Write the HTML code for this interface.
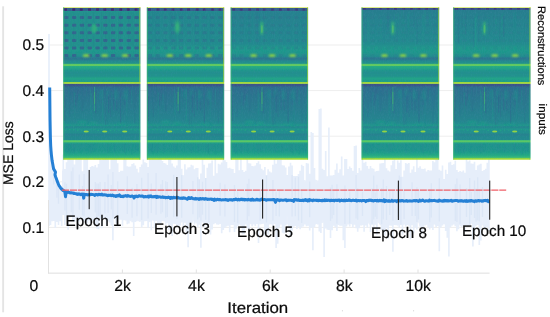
<!DOCTYPE html>
<html><head><meta charset="utf-8"><title>MSE Loss</title><style>
html,body{margin:0;padding:0;background:#fff;width:550px;height:317px;overflow:hidden}
svg{display:block}
</style></head><body>
<svg width="550" height="317" viewBox="0 0 550 317">
<defs><filter id="bl" x="-10%" y="-10%" width="120%" height="120%"><feGaussianBlur stdDeviation="0.6"/></filter><filter id="bl2" x="-50%" y="-50%" width="200%" height="200%"><feGaussianBlur stdDeviation="1.1"/></filter><filter id="nb" x="-2%" y="-2%" width="104%" height="104%"><feGaussianBlur stdDeviation="0.7 0.3"/></filter></defs>
<rect x="2.2" y="6.3" width="1.9" height="306" fill="#e4e4e4"/>
<rect x="48.5" y="226.90" width="441.1" height="1" fill="#eeeeee"/>
<rect x="48.5" y="181.30" width="441.1" height="1" fill="#eeeeee"/>
<rect x="48.5" y="135.70" width="441.1" height="1" fill="#eeeeee"/>
<rect x="48.5" y="90.10" width="441.1" height="1" fill="#eeeeee"/>
<rect x="48.5" y="44.50" width="441.1" height="1" fill="#eeeeee"/>
<g filter="url(#nb)">
<polygon points="62.0,168.4 64.0,175.3 66.0,172.8 68.0,173.2 70.0,173.3 72.0,172.5 74.0,175.9 76.0,172.6 78.0,174.4 80.0,175.5 82.0,177.1 84.0,176.9 86.0,173.9 88.0,176.5 90.0,174.5 92.0,172.5 94.0,172.6 96.0,171.6 98.0,175.3 100.0,176.9 102.0,172.8 104.0,174.3 106.0,172.8 108.0,175.1 110.0,172.9 112.0,173.7 114.0,174.0 116.0,174.6 118.0,174.9 120.0,175.3 122.0,175.4 124.0,173.9 126.0,177.0 128.0,172.5 130.0,176.3 132.0,174.1 134.0,176.4 136.0,176.7 138.0,172.2 140.0,177.0 142.0,178.9 144.0,177.9 146.0,177.1 148.0,172.2 150.0,176.2 152.0,174.8 154.0,178.8 156.0,176.2 158.0,175.6 160.0,173.5 162.0,178.6 164.0,176.0 166.0,176.7 168.0,179.5 170.0,177.6 172.0,178.2 174.0,182.4 176.0,176.6 178.0,176.8 180.0,178.9 182.0,180.8 184.0,175.2 186.0,177.7 188.0,176.3 190.0,175.6 192.0,179.5 194.0,176.9 196.0,179.1 198.0,178.8 200.0,179.0 202.0,178.9 204.0,176.7 206.0,178.8 208.0,179.4 210.0,179.8 212.0,178.6 214.0,181.1 216.0,180.4 218.0,179.6 220.0,180.7 222.0,179.8 224.0,180.8 226.0,175.6 228.0,177.0 230.0,178.7 232.0,179.7 234.0,175.3 236.0,179.0 238.0,179.8 240.0,179.0 242.0,179.0 244.0,176.8 246.0,179.7 248.0,175.5 250.0,181.4 252.0,178.3 254.0,181.7 256.0,176.1 258.0,180.4 260.0,179.8 262.0,177.9 264.0,177.2 266.0,182.0 268.0,180.5 270.0,182.6 272.0,179.6 274.0,180.1 276.0,180.6 278.0,181.3 280.0,180.8 282.0,181.5 284.0,179.0 286.0,177.0 288.0,184.0 290.0,180.4 292.0,181.0 294.0,179.2 296.0,182.1 298.0,180.6 300.0,182.4 302.0,178.9 304.0,180.1 306.0,180.6 308.0,179.6 310.0,180.8 312.0,183.5 314.0,179.2 316.0,179.8 318.0,180.7 320.0,178.4 322.0,178.0 324.0,182.6 326.0,182.0 328.0,177.3 330.0,177.6 332.0,181.9 334.0,182.8 336.0,181.7 338.0,181.4 340.0,183.6 342.0,180.4 344.0,183.0 346.0,182.9 348.0,178.7 350.0,181.9 352.0,180.7 354.0,179.3 356.0,178.9 358.0,181.2 360.0,180.5 362.0,182.2 364.0,177.1 366.0,179.3 368.0,182.8 370.0,180.6 372.0,179.2 374.0,179.7 376.0,177.0 378.0,177.9 380.0,181.8 382.0,180.9 384.0,183.3 386.0,180.2 388.0,180.4 390.0,175.3 392.0,180.6 394.0,185.0 396.0,182.1 398.0,180.6 400.0,183.3 402.0,182.5 404.0,181.5 406.0,180.1 408.0,181.1 410.0,182.6 412.0,179.2 414.0,181.9 416.0,181.8 418.0,183.6 420.0,182.4 422.0,179.5 424.0,184.0 426.0,180.9 428.0,179.4 430.0,181.6 432.0,180.3 434.0,183.0 436.0,178.2 438.0,178.6 440.0,180.3 442.0,184.3 444.0,182.9 446.0,178.9 448.0,177.4 450.0,180.2 452.0,178.3 454.0,182.0 456.0,181.2 458.0,180.8 460.0,180.0 462.0,183.9 464.0,179.0 466.0,178.2 468.0,183.2 470.0,183.6 472.0,180.2 474.0,182.2 476.0,185.6 478.0,179.3 480.0,180.6 482.0,181.8 484.0,176.7 486.0,180.6 488.0,182.4 488.0,225.8 486.0,223.1 484.0,226.3 482.0,225.3 480.0,225.2 478.0,224.5 476.0,226.1 474.0,226.1 472.0,223.3 470.0,225.6 468.0,223.8 466.0,223.5 464.0,224.7 462.0,226.9 460.0,225.8 458.0,223.4 456.0,223.1 454.0,222.9 452.0,226.6 450.0,223.5 448.0,223.5 446.0,224.4 444.0,224.1 442.0,222.0 440.0,224.1 438.0,223.3 436.0,225.5 434.0,223.6 432.0,223.3 430.0,224.2 428.0,222.6 426.0,225.5 424.0,225.5 422.0,227.0 420.0,226.1 418.0,221.9 416.0,225.1 414.0,224.8 412.0,224.5 410.0,225.4 408.0,224.5 406.0,223.6 404.0,224.7 402.0,224.8 400.0,222.0 398.0,226.6 396.0,223.5 394.0,224.0 392.0,223.9 390.0,222.9 388.0,224.5 386.0,225.4 384.0,223.0 382.0,227.3 380.0,224.8 378.0,222.5 376.0,222.5 374.0,222.8 372.0,222.9 370.0,225.2 368.0,223.1 366.0,223.7 364.0,223.3 362.0,225.8 360.0,224.2 358.0,223.3 356.0,224.1 354.0,223.1 352.0,224.9 350.0,222.0 348.0,222.3 346.0,222.0 344.0,223.6 342.0,224.7 340.0,226.2 338.0,224.1 336.0,222.9 334.0,223.6 332.0,222.2 330.0,223.7 328.0,223.9 326.0,223.3 324.0,222.5 322.0,222.9 320.0,223.0 318.0,223.6 316.0,224.2 314.0,225.6 312.0,222.1 310.0,224.4 308.0,223.0 306.0,223.4 304.0,221.6 302.0,222.6 300.0,223.5 298.0,223.5 296.0,225.3 294.0,221.4 292.0,225.8 290.0,224.3 288.0,224.6 286.0,224.2 284.0,225.4 282.0,224.1 280.0,224.2 278.0,224.2 276.0,224.0 274.0,221.8 272.0,224.7 270.0,223.3 268.0,222.7 266.0,222.4 264.0,222.1 262.0,224.1 260.0,224.6 258.0,223.5 256.0,222.1 254.0,225.1 252.0,222.0 250.0,224.7 248.0,223.9 246.0,223.6 244.0,222.9 242.0,223.2 240.0,222.5 238.0,226.1 236.0,224.4 234.0,221.4 232.0,223.2 230.0,219.7 228.0,223.9 226.0,224.5 224.0,222.6 222.0,223.3 220.0,224.0 218.0,221.1 216.0,223.2 214.0,222.2 212.0,224.0 210.0,223.0 208.0,223.5 206.0,223.1 204.0,222.2 202.0,221.5 200.0,222.2 198.0,223.4 196.0,223.5 194.0,220.4 192.0,223.4 190.0,220.8 188.0,221.9 186.0,221.8 184.0,221.3 182.0,222.2 180.0,222.7 178.0,221.3 176.0,223.2 174.0,221.9 172.0,221.1 170.0,220.6 168.0,223.2 166.0,220.7 164.0,220.6 162.0,218.0 160.0,219.7 158.0,223.0 156.0,218.9 154.0,220.9 152.0,219.5 150.0,222.5 148.0,220.4 146.0,221.3 144.0,219.6 142.0,218.8 140.0,221.9 138.0,221.0 136.0,218.3 134.0,219.2 132.0,220.3 130.0,221.4 128.0,217.9 126.0,221.7 124.0,217.7 122.0,218.1 120.0,218.5 118.0,219.2 116.0,219.2 114.0,216.9 112.0,218.9 110.0,217.3 108.0,217.8 106.0,218.1 104.0,218.4 102.0,217.5 100.0,219.9 98.0,218.8 96.0,217.8 94.0,216.5 92.0,217.8 90.0,217.0 88.0,220.3 86.0,218.1 84.0,219.7 82.0,218.4 80.0,218.3 78.0,218.5 76.0,218.3 74.0,218.9 72.0,216.1 70.0,215.6 68.0,216.3 66.0,214.5 64.0,213.5 62.0,213.2" fill="#e8effa"/>
<path d="M49.0 34.0V226.0M50.5 144.0V224.9M52.1 159.6V221.3M53.7 168.5V221.0M55.3 174.8V228.0M56.9 179.5V222.1M58.5 183.7V225.1M60.1 186.4V221.2M61.7 188.3V226.1M63.3 154.4V215.1M64.9 169.0V225.1M66.5 162.3V220.1M68.1 153.6V229.7M69.7 151.0V217.6M71.3 158.6V216.8M72.9 149.4V220.2M74.5 164.5V221.9M76.1 154.2V218.8M77.7 154.1V226.7M79.3 154.1V221.4M80.9 152.9V212.2M82.5 171.2V220.9M84.1 158.2V221.3M85.7 153.6V223.9M87.3 153.2V223.5M88.9 169.5V220.6M90.5 166.9V223.2M92.1 166.0V220.9M93.7 166.5V219.7M95.3 165.1V225.8M96.9 167.4V228.6M98.5 164.1V229.3M100.1 158.0V218.3M101.7 160.0V228.2M103.3 132.3V218.6M104.9 154.9V213.6M106.5 152.9V225.8M108.1 153.5V221.6M109.7 169.3V222.5M111.3 156.5V225.6M112.9 158.3V240.2M114.5 158.0V219.1M116.1 157.1V223.3M117.7 163.2V226.4M119.3 171.9V219.7M120.9 170.8V219.7M122.5 170.8V225.8M124.1 155.5V220.3M125.7 155.0V219.9M127.3 166.3V224.3M128.9 166.7V223.5M130.5 166.5V220.1M132.1 164.0V222.3M133.7 163.2V236.1M135.3 165.5V222.0M136.9 168.7V221.2M138.5 172.5V213.5M140.1 167.0V221.4M141.7 164.6V227.2M143.3 159.6V225.2M144.9 162.2V221.3M146.5 163.1V220.9M148.1 166.9V227.8M149.7 156.8V221.6M151.3 156.5V230.2M152.9 154.7V220.5M154.5 158.4V228.3M156.1 156.5V220.9M157.7 157.2V224.3M159.3 157.7V223.5M160.9 156.6V223.5M162.5 161.1V221.1M164.1 162.9V221.5M165.7 163.6V224.8M167.3 164.9V223.2M168.9 159.1V229.8M170.5 159.2V225.4M172.1 163.5V235.9M173.7 166.4V223.7M175.3 167.7V223.9M176.9 165.4V225.2M178.5 159.6V226.7M180.1 159.9V225.6M181.7 168.7V222.2M183.3 175.3V226.4M184.9 164.2V222.8M186.5 169.5V234.3M188.1 167.5V247.3M189.7 167.3V223.1M191.3 164.8V222.9M192.9 165.5V217.3M194.5 169.2V224.4M196.1 168.0V220.2M197.7 167.9V227.1M199.3 179.8V224.8M200.9 173.4V247.7M202.5 158.8V222.6M204.1 164.8V227.3M205.7 177.9V223.6M207.3 167.8V226.9M208.9 163.5V224.6M210.5 163.2V234.4M212.1 160.4V229.6M213.7 175.7V224.3M215.3 157.8V223.3M216.9 173.2V224.6M218.5 163.7V224.8M220.1 164.5V224.0M221.7 162.4V233.3M223.3 159.9V229.9M224.9 160.2V227.7M226.5 162.1V226.4M228.1 168.3V225.7M229.7 167.8V232.3M231.3 168.7V224.9M232.9 169.0V225.0M234.5 172.9V231.9M236.1 157.8V228.8M237.7 158.9V226.2M239.3 170.2V224.4M240.9 135.0V225.6M242.5 170.0V234.2M244.1 172.1V234.0M245.7 170.8V224.4M247.3 112.4V228.3M248.9 163.3V230.3M250.5 163.6V224.1M252.1 165.9V226.2M253.7 166.3V224.3M255.3 165.5V226.0M256.9 163.1V224.0M258.5 161.2V243.1M260.1 164.2V223.8M261.7 168.7V223.9M263.3 170.2V223.7M264.9 166.9V235.4M266.5 175.0V230.9M268.1 169.2V234.4M269.7 171.4V224.5M271.3 172.6V224.2M272.9 164.8V225.9M274.5 108.2V223.9M276.1 163.8V248.0M277.7 160.1V243.7M279.3 159.9V227.6M280.9 159.8V224.4M282.5 165.2V232.8M284.1 165.4V233.4M285.7 167.4V225.4M287.3 175.1V216.4M288.9 166.4V226.4M290.5 162.8V235.4M292.1 165.4V230.7M293.7 175.9V226.7M295.3 176.1V225.9M296.9 175.9V228.9M298.5 174.1V226.8M300.1 170.7V229.3M301.7 164.8V227.4M303.3 166.0V226.4M304.9 182.5V224.6M306.5 163.0V226.2M308.1 163.5V225.8M309.7 173.7V230.4M311.3 132.0V227.8M312.9 133.0V250.3M314.5 168.0V227.1M316.1 184.4V223.9M317.7 183.1V224.4M319.3 109.0V231.5M320.9 108.5V233.0M322.5 168.7V220.3M324.1 169.9V256.9M325.7 151.0V228.4M327.3 176.3V229.7M328.9 127.5V229.9M330.5 175.6V237.9M332.1 175.6V230.2M333.7 175.0V225.7M335.3 169.8V226.9M336.9 163.5V231.1M338.5 172.8V224.9M340.1 169.3V224.2M341.7 156.5V225.7M343.3 175.4V240.3M344.9 159.0V248.1M346.5 159.0V226.6M348.1 169.0V224.4M349.7 166.4V226.4M351.3 168.0V224.1M352.9 170.8V227.3M354.5 146.0V224.7M356.1 145.5V228.2M357.7 173.0V231.7M359.3 168.1V228.3M360.9 170.5V225.5M362.5 159.2V224.9M364.1 162.7V231.8M365.7 161.8V225.5M367.3 165.9V227.5M368.9 168.7V221.6M370.5 165.9V231.9M372.1 168.2V224.6M373.7 168.8V228.8M375.3 171.4V224.8M376.9 171.0V234.7M378.5 170.8V218.7M380.1 163.5V224.6M381.7 163.2V229.9M383.3 163.1V231.1M384.9 158.4V235.6M386.5 168.3V227.9M388.1 170.6V238.5M389.7 171.5V225.5M391.3 165.3V225.8M392.9 160.8V251.7M394.5 158.6V225.0M396.1 169.0V225.3M397.7 160.4V225.0M399.3 162.7V227.5M400.9 160.2V224.7M402.5 176.7V234.8M404.1 170.5V219.2M405.7 163.0V226.4M407.3 163.8V225.1M408.9 163.1V225.8M410.5 172.7V239.3M412.1 169.4V225.2M413.7 166.3V233.2M415.3 171.9V227.2M416.9 145.7V229.6M418.5 167.7V219.4M420.1 166.3V226.6M421.7 168.8V234.4M423.3 169.1V227.7M424.9 168.6V224.3M426.5 171.4V224.4M428.1 169.9V227.2M429.7 170.5V229.6M431.3 170.6V227.5M432.9 161.0V229.9M434.5 162.2V224.6M436.1 128.6V227.0M437.7 148.6V226.1M439.3 169.8V251.2M440.9 170.8V227.6M442.5 165.4V225.5M444.1 179.1V224.3M445.7 169.7V231.0M447.3 174.1V237.7M448.9 162.6V256.5M450.5 161.7V227.0M452.1 164.9V224.5M453.7 164.3V224.5M455.3 160.7V226.2M456.9 170.1V231.3M458.5 171.9V229.2M460.1 171.1V225.0M461.7 171.8V226.7M463.3 170.5V224.5M464.9 172.8V231.8M466.5 130.8V225.3M468.1 161.4V227.0M469.7 160.6V224.8M471.3 163.5V221.2M472.9 163.7V246.5M474.5 161.7V233.0M476.1 170.1V225.0M477.7 165.6V224.8M479.3 164.6V245.0M480.9 163.7V240.6M482.5 171.0V217.1M484.1 170.0V228.1M485.7 168.7V229.5M487.3 162.8V227.0M488.9 105.9V230.9" stroke="#e6eefa" stroke-width="1.65" fill="none"/>
<path d="M53.7 168.5V184.5M56.9 179.5V197.8M58.5 183.7V203.8M64.9 182.3V210.4M66.5 183.7V215.2M71.3 171.3V212.3M72.9 167.6V216.8M79.3 174.4V209.7M82.5 186.1V215.5M84.1 174.0V216.3M95.3 181.9V212.6M96.9 183.5V217.4M98.5 183.4V216.3M100.1 182.1V218.3M104.9 182.1V213.6M108.1 174.4V212.9M111.3 185.0V209.5M112.9 171.9V218.3M117.7 181.3V218.7M127.3 176.2V213.9M132.1 187.8V217.8M136.9 184.0V216.2M141.7 177.7V220.0M148.1 172.9V218.4M151.3 183.5V213.1M156.1 173.1V214.7M160.9 184.3V213.8M162.5 179.9V212.2M165.7 181.3V217.8M167.3 182.0V217.0M173.7 174.7V217.2M176.9 181.4V218.9M181.7 175.1V217.8M192.9 181.0V214.2M197.7 177.3V219.6M199.3 179.8V217.6M200.9 190.3V220.7M202.5 181.7V214.8M205.7 177.9V219.7M208.9 190.0V222.0M220.1 182.8V215.8M224.9 184.5V216.5M234.5 184.9V222.1M237.7 191.5V223.3M247.3 183.7V220.4M248.9 178.8V216.3M260.1 189.7V220.8M266.5 175.7V222.5M272.9 179.9V220.8M276.1 191.9V215.9M279.3 190.6V216.4M292.1 175.0V216.5M295.3 177.5V216.2M298.5 176.8V220.5M301.7 189.1V222.9M309.7 181.4V217.2M330.5 187.5V221.0M332.1 184.8V218.5M333.7 190.8V214.9M336.9 184.2V223.8M344.9 185.6V224.0M349.7 191.4V223.5M356.1 175.1V218.5M357.7 188.3V219.7M362.5 191.8V216.1M372.1 188.2V224.6M373.7 175.6V219.6M375.3 192.6V216.8M376.9 184.8V219.1M381.7 187.9V224.3M383.3 179.5V219.5M386.5 186.1V219.9M389.7 191.2V215.1M392.9 190.6V220.7M397.7 185.5V217.5M399.3 175.4V219.4M400.9 176.9V224.7M404.1 189.4V219.2M412.1 182.3V216.0M415.3 190.8V216.0M416.9 187.2V221.9M418.5 190.8V219.4M429.7 189.0V222.2M431.3 183.2V217.4M439.3 178.3V221.4M455.3 184.3V220.9M456.9 178.6V222.0M460.1 184.4V224.0M466.5 187.9V217.0M469.7 178.0V224.6M471.3 191.9V214.9M474.5 180.6V217.9M476.1 188.4V221.8M477.7 177.3V220.6M479.3 189.1V221.4M482.5 186.9V217.1" stroke="#dbe6f6" stroke-width="1.3" fill="none"/>
</g>
<rect x="48.0" y="200" width="1" height="73.5" fill="#e2e2e2"/>
<rect x="48.0" y="272.6" width="441.6" height="1.1" fill="#e2e2e2"/>
<rect x="121.90" y="269.5" width="1" height="3.5" fill="#e2e2e2"/>
<rect x="195.80" y="269.5" width="1" height="3.5" fill="#e2e2e2"/>
<rect x="269.70" y="269.5" width="1" height="3.5" fill="#e2e2e2"/>
<rect x="343.60" y="269.5" width="1" height="3.5" fill="#e2e2e2"/>
<rect x="417.50" y="269.5" width="1" height="3.5" fill="#e2e2e2"/>
<polyline points="49.70,87.60 50.04,119.91 50.37,137.27 50.71,145.99 51.05,150.79 51.38,154.59 51.72,157.53 52.05,160.31 52.39,162.20 52.73,164.09 53.06,165.95 53.40,167.80 53.60,168.90 55.50,171.96 55.00,174.71 55.70,177.00 56.40,178.80 57.10,180.88 57.80,182.57 58.50,184.38 59.20,186.00 59.90,186.67 60.60,187.87 61.30,188.96 62.00,189.04 62.70,190.40 63.40,190.45 64.10,190.89 64.80,191.56 65.50,196.66 66.20,191.87 66.90,192.52 67.60,192.28 68.30,191.95 69.00,192.43 69.70,192.82 70.40,192.90 71.10,192.64 71.80,192.91 72.50,192.98 73.20,192.92 73.90,193.38 74.60,193.33 75.30,193.57 76.00,193.77 76.70,193.67 77.40,194.40 78.10,193.80 78.80,194.13 79.50,194.08 80.20,194.22 80.90,194.64 81.60,194.00 82.30,194.58 83.00,194.10 83.70,198.12 84.40,194.15 85.10,194.49 85.80,194.39 86.50,194.47 87.20,194.87 87.90,194.91 88.60,194.60 89.30,194.43 90.00,194.88 90.70,194.29 91.40,194.21 92.10,194.60 92.80,194.61 93.50,194.70 94.20,194.65 94.90,195.47 95.60,194.42 96.30,194.54 97.00,194.46 97.70,194.95 98.40,194.45 99.10,194.34 99.80,194.63 100.50,194.54 101.20,194.84 101.90,194.20 102.60,195.07 103.30,194.94 104.00,194.80 104.70,194.76 105.40,195.10 106.10,194.94 106.80,195.17 107.50,195.63 108.20,195.15 108.90,195.50 109.60,195.39 110.30,195.07 111.00,195.67 111.70,195.55 112.40,195.09 113.10,195.50 113.80,195.99 114.50,195.76 115.20,195.75 115.90,196.46 116.60,195.67 117.30,195.50 118.00,195.91 118.70,195.54 119.40,194.95 120.10,196.01 120.80,196.60 121.50,196.27 122.20,196.13 122.90,196.76 123.60,196.00 124.30,196.16 125.00,195.85 125.70,195.62 126.40,196.02 127.10,196.34 127.80,195.55 128.50,195.79 129.20,196.07 129.90,196.35 130.60,196.38 131.30,196.36 132.00,195.97 132.70,196.31 133.40,196.79 134.10,198.05 134.80,196.19 135.50,196.50 136.20,196.03 136.90,196.34 137.60,196.63 138.30,196.20 139.00,195.72 139.70,195.96 140.40,196.12 141.10,196.34 141.80,195.88 142.50,195.96 143.20,196.53 143.90,197.05 144.60,196.63 145.30,196.42 146.00,196.82 146.70,196.83 147.40,196.82 148.10,196.18 148.80,197.12 149.50,196.16 150.20,196.50 150.90,195.95 151.60,196.76 152.30,196.63 153.00,196.92 153.70,196.68 154.40,196.44 155.10,196.80 155.80,196.43 156.50,197.51 157.20,196.43 157.90,197.15 158.60,196.67 159.30,196.80 160.00,196.88 160.70,197.31 161.40,197.13 162.10,197.19 162.80,196.78 163.50,197.46 164.20,197.17 164.90,197.15 165.60,197.75 166.30,197.63 167.00,197.40 167.70,197.64 168.40,197.10 169.10,197.44 169.80,197.57 170.50,198.51 171.20,197.39 171.90,197.58 172.60,198.13 173.30,197.27 174.00,197.50 174.70,197.75 175.40,197.84 176.10,197.83 176.80,197.18 177.50,198.01 178.20,197.50 178.90,197.84 179.60,198.14 180.30,198.15 181.00,198.39 181.70,198.11 182.40,198.50 183.10,197.82 183.80,198.25 184.50,198.07 185.20,198.13 185.90,198.53 186.60,198.89 187.30,199.25 188.00,198.47 188.70,197.50 189.40,198.43 190.10,197.99 190.80,198.36 191.50,197.70 192.20,198.38 192.90,198.54 193.60,198.83 194.30,198.75 195.00,198.93 195.70,198.22 196.40,199.06 197.10,198.71 197.80,198.72 198.50,198.64 199.20,199.42 199.90,198.61 200.60,198.61 201.30,199.08 202.00,198.90 202.70,198.58 203.40,199.05 204.10,198.74 204.80,199.26 205.50,198.60 206.20,199.08 206.90,199.05 207.60,199.40 208.30,199.14 209.00,199.33 209.70,199.21 210.40,199.12 211.10,198.94 211.80,199.41 212.50,199.32 213.20,199.72 213.90,200.37 214.60,199.09 215.30,199.72 216.00,200.03 216.70,199.41 217.40,199.28 218.10,199.53 218.80,199.73 219.50,199.51 220.20,199.57 220.90,199.89 221.60,200.10 222.30,199.86 223.00,199.67 223.70,199.89 224.40,199.76 225.10,199.59 225.80,199.41 226.50,199.97 227.20,199.71 227.90,200.37 228.60,199.94 229.30,199.74 230.00,199.62 230.70,199.81 231.40,200.00 232.10,199.77 232.80,200.16 233.50,199.61 234.20,199.53 234.90,199.67 235.60,199.02 236.30,199.19 237.00,199.69 237.70,200.02 238.40,199.28 239.10,199.64 239.80,200.00 240.50,199.29 241.20,199.38 241.90,199.12 242.60,199.85 243.30,199.79 244.00,199.22 244.70,200.01 245.40,199.52 246.10,199.56 246.80,199.81 247.50,199.90 248.20,199.39 248.90,199.75 249.60,199.65 250.30,200.10 251.00,199.46 251.70,200.10 252.40,199.16 253.10,199.86 253.80,200.15 254.50,199.89 255.20,200.08 255.90,199.99 256.60,199.26 257.30,199.51 258.00,200.05 258.70,199.77 259.40,199.66 260.10,200.13 260.80,199.84 261.50,199.10 262.20,199.37 262.90,199.74 263.60,199.61 264.30,199.45 265.00,199.68 265.70,199.63 266.40,200.29 267.10,199.78 267.80,199.77 268.50,199.70 269.20,199.67 269.90,199.82 270.60,199.78 271.30,199.84 272.00,199.84 272.70,199.62 273.40,199.94 274.10,199.57 274.80,200.06 275.50,202.39 276.20,200.24 276.90,199.75 277.60,199.62 278.30,200.21 279.00,199.94 279.70,200.70 280.40,199.98 281.10,200.03 281.80,200.14 282.50,200.16 283.20,200.34 283.90,200.14 284.60,200.02 285.30,199.95 286.00,199.83 286.70,200.74 287.40,200.22 288.10,200.49 288.80,200.15 289.50,200.17 290.20,200.35 290.90,200.32 291.60,200.50 292.30,200.49 293.00,200.37 293.70,201.34 294.40,199.61 295.10,199.77 295.80,199.64 296.50,199.74 297.20,200.32 297.90,200.30 298.60,199.74 299.30,200.49 300.00,200.58 300.70,200.30 301.40,200.41 302.10,200.42 302.80,200.13 303.50,200.75 304.20,200.04 304.90,200.19 305.60,199.61 306.30,200.54 307.00,200.13 307.70,200.82 308.40,199.86 309.10,200.79 309.80,199.68 310.50,200.28 311.20,200.33 311.90,200.21 312.60,200.78 313.30,200.07 314.00,200.25 314.70,200.36 315.40,200.33 316.10,200.27 316.80,200.47 317.50,200.28 318.20,200.76 318.90,200.14 319.60,200.35 320.30,200.50 321.00,200.54 321.70,200.79 322.40,200.22 323.10,200.66 323.80,200.37 324.50,199.85 325.20,200.63 325.90,200.02 326.60,200.25 327.30,200.53 328.00,200.23 328.70,200.14 329.40,200.55 330.10,200.69 330.80,200.23 331.50,200.31 332.20,200.52 332.90,200.43 333.60,200.34 334.30,200.95 335.00,200.33 335.70,200.17 336.40,200.31 337.10,200.53 337.80,200.23 338.50,200.16 339.20,200.00 339.90,201.04 340.60,200.60 341.30,200.11 342.00,200.59 342.70,200.57 343.40,200.79 344.10,200.18 344.80,200.80 345.50,200.69 346.20,200.13 346.90,200.52 347.60,200.53 348.30,200.56 349.00,199.86 349.70,200.55 350.40,200.37 351.10,200.72 351.80,200.55 352.50,200.33 353.20,200.22 353.90,200.43 354.60,200.59 355.30,200.49 356.00,200.12 356.70,200.97 357.40,200.77 358.10,200.55 358.80,200.59 359.50,200.70 360.20,200.61 360.90,200.49 361.60,200.87 362.30,200.51 363.00,200.48 363.70,200.58 364.40,200.54 365.10,200.62 365.80,201.54 366.50,200.44 367.20,200.72 367.90,200.84 368.60,200.19 369.30,200.53 370.00,200.18 370.70,200.41 371.40,200.20 372.10,200.68 372.80,200.46 373.50,200.92 374.20,200.55 374.90,200.53 375.60,200.47 376.30,200.41 377.00,200.94 377.70,200.27 378.40,201.00 379.10,200.60 379.80,200.31 380.50,200.70 381.20,200.49 381.90,200.49 382.60,201.04 383.30,200.86 384.00,199.90 384.70,201.72 385.40,200.30 386.10,200.92 386.80,200.54 387.50,201.17 388.20,201.36 388.90,200.48 389.60,201.26 390.30,201.22 391.00,201.20 391.70,200.29 392.40,201.04 393.10,201.29 393.80,200.70 394.50,200.69 395.20,200.70 395.90,200.84 396.60,201.56 397.30,200.65 398.00,200.43 398.70,200.24 399.40,200.98 400.10,200.78 400.80,200.95 401.50,200.54 402.20,200.83 402.90,200.55 403.60,201.14 404.30,201.12 405.00,201.06 405.70,201.01 406.40,200.52 407.10,200.99 407.80,201.22 408.50,200.89 409.20,201.10 409.90,200.78 410.60,201.10 411.30,200.95 412.00,201.13 412.70,201.05 413.40,200.67 414.10,200.56 414.80,200.66 415.50,200.89 416.20,200.47 416.90,200.56 417.60,200.80 418.30,201.49 419.00,201.02 419.70,200.21 420.40,200.97 421.10,200.92 421.80,200.69 422.50,199.98 423.20,200.52 423.90,200.87 424.60,201.32 425.30,201.05 426.00,200.68 426.70,200.68 427.40,200.93 428.10,200.91 428.80,201.19 429.50,199.98 430.20,200.78 430.90,200.71 431.60,200.60 432.30,200.67 433.00,200.58 433.70,200.55 434.40,200.30 435.10,200.59 435.80,200.91 436.50,201.11 437.20,200.75 437.90,201.30 438.60,201.22 439.30,200.19 440.00,200.83 440.70,200.82 441.40,200.96 442.10,201.13 442.80,200.67 443.50,201.08 444.20,200.25 444.90,200.97 445.60,200.44 446.30,200.44 447.00,201.06 447.70,200.60 448.40,200.98 449.10,200.77 449.80,200.88 450.50,200.69 451.20,200.31 451.90,201.18 452.60,201.18 453.30,200.84 454.00,200.78 454.70,200.59 455.40,200.54 456.10,200.53 456.80,200.42 457.50,200.78 458.20,201.18 458.90,200.69 459.60,200.95 460.30,200.97 461.00,200.61 461.70,201.03 462.40,200.81 463.10,201.27 463.80,201.23 464.50,200.76 465.20,200.76 465.90,201.35 466.60,200.56 467.30,201.41 468.00,201.23 468.70,200.71 469.40,200.82 470.10,201.11 470.80,200.52 471.50,200.56 472.20,201.12 472.90,200.95 473.60,200.98 474.30,201.64 475.00,200.93 475.70,200.73 476.40,201.17 477.10,201.04 477.80,200.73 478.50,200.59 479.20,201.00 479.90,200.75 480.60,200.64 481.30,200.68 482.00,201.28 482.70,200.82 483.40,200.95 484.10,200.45 484.80,200.49 485.50,200.36 486.20,200.91 486.90,200.69 487.60,200.27 488.30,201.56 489.00,200.90" fill="none" stroke="#2580d5" stroke-width="3" stroke-linejoin="round"/>
<line x1="61.4" y1="190.1" x2="506.2" y2="190.1" stroke="#ef6068" stroke-width="1.3" stroke-dasharray="7.1 0.85" stroke-dashoffset="-0.6"/>
<rect x="88.65" y="170" width="1.1" height="39.2" fill="#222"/>
<rect x="176.35" y="177" width="1.1" height="39.4" fill="#222"/>
<rect x="262.05" y="179.5" width="1.1" height="39.1" fill="#222"/>
<rect x="397.85" y="180.6" width="1.1" height="39.4" fill="#222"/>
<rect x="489.15" y="180.6" width="1.1" height="39.1" fill="#222"/>
<defs><linearGradient id="rg0" gradientUnits="userSpaceOnUse" x1="0" y1="7.0" x2="0" y2="83.9"><stop offset="0.0000" stop-color="#bddf26"/><stop offset="0.0091" stop-color="#bddf26"/><stop offset="0.0091" stop-color="#355f8d"/><stop offset="0.0494" stop-color="#355f8d"/><stop offset="0.0494" stop-color="#1f958b"/><stop offset="0.0780" stop-color="#21918c"/><stop offset="0.4811" stop-color="#21918c"/><stop offset="0.5072" stop-color="#21918c"/><stop offset="0.5267" stop-color="#1f978b"/><stop offset="0.5722" stop-color="#1f978b"/><stop offset="0.5917" stop-color="#1f958b"/><stop offset="0.6242" stop-color="#21918c"/><stop offset="0.6476" stop-color="#23898e"/><stop offset="0.6632" stop-color="#2b758e"/><stop offset="0.6827" stop-color="#297a8e"/><stop offset="0.7022" stop-color="#23898e"/><stop offset="0.7334" stop-color="#21918c"/><stop offset="0.7412" stop-color="#5ec962"/><stop offset="0.7620" stop-color="#63cb5f"/><stop offset="0.7711" stop-color="#26ad81"/><stop offset="0.7997" stop-color="#20a386"/><stop offset="0.8257" stop-color="#1f958b"/><stop offset="0.8583" stop-color="#218e8d"/><stop offset="0.8778" stop-color="#20928c"/><stop offset="0.8973" stop-color="#21918c"/><stop offset="0.9298" stop-color="#20a386"/><stop offset="0.9558" stop-color="#1f9f88"/><stop offset="0.9753" stop-color="#1f9f88"/><stop offset="0.9805" stop-color="#a2da37"/><stop offset="1.0000" stop-color="#a2da37"/></linearGradient><linearGradient id="rg1" gradientUnits="userSpaceOnUse" x1="0" y1="7.0" x2="0" y2="83.9"><stop offset="0.0000" stop-color="#bddf26"/><stop offset="0.0091" stop-color="#bddf26"/><stop offset="0.0091" stop-color="#355f8d"/><stop offset="0.0494" stop-color="#355f8d"/><stop offset="0.0494" stop-color="#228b8d"/><stop offset="0.0780" stop-color="#24868e"/><stop offset="0.4811" stop-color="#228b8d"/><stop offset="0.5072" stop-color="#21918c"/><stop offset="0.5267" stop-color="#1f978b"/><stop offset="0.5722" stop-color="#1f978b"/><stop offset="0.5917" stop-color="#1f958b"/><stop offset="0.6242" stop-color="#21918c"/><stop offset="0.6476" stop-color="#23898e"/><stop offset="0.6632" stop-color="#2b758e"/><stop offset="0.6827" stop-color="#297a8e"/><stop offset="0.7022" stop-color="#23898e"/><stop offset="0.7334" stop-color="#21918c"/><stop offset="0.7412" stop-color="#5ec962"/><stop offset="0.7620" stop-color="#63cb5f"/><stop offset="0.7711" stop-color="#26ad81"/><stop offset="0.7997" stop-color="#20a386"/><stop offset="0.8257" stop-color="#1f958b"/><stop offset="0.8583" stop-color="#218e8d"/><stop offset="0.8778" stop-color="#20928c"/><stop offset="0.8973" stop-color="#21918c"/><stop offset="0.9298" stop-color="#20a386"/><stop offset="0.9558" stop-color="#1f9f88"/><stop offset="0.9753" stop-color="#1f9f88"/><stop offset="0.9805" stop-color="#a2da37"/><stop offset="1.0000" stop-color="#a2da37"/></linearGradient><linearGradient id="rg2" gradientUnits="userSpaceOnUse" x1="0" y1="7.0" x2="0" y2="83.9"><stop offset="0.0000" stop-color="#bddf26"/><stop offset="0.0091" stop-color="#bddf26"/><stop offset="0.0091" stop-color="#355f8d"/><stop offset="0.0494" stop-color="#355f8d"/><stop offset="0.0494" stop-color="#25848e"/><stop offset="0.0780" stop-color="#27808e"/><stop offset="0.4811" stop-color="#23898e"/><stop offset="0.5072" stop-color="#21918c"/><stop offset="0.5267" stop-color="#1f978b"/><stop offset="0.5722" stop-color="#1f978b"/><stop offset="0.5917" stop-color="#1f958b"/><stop offset="0.6242" stop-color="#21918c"/><stop offset="0.6476" stop-color="#23898e"/><stop offset="0.6632" stop-color="#2b758e"/><stop offset="0.6827" stop-color="#297a8e"/><stop offset="0.7022" stop-color="#23898e"/><stop offset="0.7334" stop-color="#21918c"/><stop offset="0.7412" stop-color="#5ec962"/><stop offset="0.7620" stop-color="#63cb5f"/><stop offset="0.7711" stop-color="#26ad81"/><stop offset="0.7997" stop-color="#20a386"/><stop offset="0.8257" stop-color="#1f958b"/><stop offset="0.8583" stop-color="#218e8d"/><stop offset="0.8778" stop-color="#20928c"/><stop offset="0.8973" stop-color="#21918c"/><stop offset="0.9298" stop-color="#20a386"/><stop offset="0.9558" stop-color="#1f9f88"/><stop offset="0.9753" stop-color="#1f9f88"/><stop offset="0.9805" stop-color="#a2da37"/><stop offset="1.0000" stop-color="#a2da37"/></linearGradient><linearGradient id="rg3" gradientUnits="userSpaceOnUse" x1="0" y1="7.0" x2="0" y2="83.9"><stop offset="0.0000" stop-color="#bddf26"/><stop offset="0.0078" stop-color="#bddf26"/><stop offset="0.0078" stop-color="#3b528b"/><stop offset="0.0338" stop-color="#38588c"/><stop offset="0.0338" stop-color="#287d8e"/><stop offset="0.1691" stop-color="#26828e"/><stop offset="0.4291" stop-color="#23898e"/><stop offset="0.4811" stop-color="#228b8d"/><stop offset="0.5072" stop-color="#21918c"/><stop offset="0.5267" stop-color="#1f978b"/><stop offset="0.5722" stop-color="#1f978b"/><stop offset="0.5917" stop-color="#1f958b"/><stop offset="0.6242" stop-color="#21918c"/><stop offset="0.6476" stop-color="#23898e"/><stop offset="0.6632" stop-color="#2b758e"/><stop offset="0.6827" stop-color="#297a8e"/><stop offset="0.7022" stop-color="#23898e"/><stop offset="0.7334" stop-color="#21918c"/><stop offset="0.7412" stop-color="#5ec962"/><stop offset="0.7620" stop-color="#63cb5f"/><stop offset="0.7711" stop-color="#26ad81"/><stop offset="0.7997" stop-color="#20a386"/><stop offset="0.8257" stop-color="#1f958b"/><stop offset="0.8583" stop-color="#218e8d"/><stop offset="0.8778" stop-color="#20928c"/><stop offset="0.8973" stop-color="#21918c"/><stop offset="0.9298" stop-color="#20a386"/><stop offset="0.9558" stop-color="#1f9f88"/><stop offset="0.9753" stop-color="#1f9f88"/><stop offset="0.9805" stop-color="#a2da37"/><stop offset="1.0000" stop-color="#a2da37"/></linearGradient><linearGradient id="ig" gradientUnits="userSpaceOnUse" x1="0" y1="83.9" x2="0" y2="159.8"><stop offset="0.0000" stop-color="#3c4f8a"/><stop offset="0.0250" stop-color="#38588c"/><stop offset="0.0408" stop-color="#2f6c8e"/><stop offset="0.1462" stop-color="#2c738e"/><stop offset="0.3439" stop-color="#287d8e"/><stop offset="0.4756" stop-color="#25848e"/><stop offset="0.5152" stop-color="#23898e"/><stop offset="0.5455" stop-color="#1f958b"/><stop offset="0.5679" stop-color="#25848e"/><stop offset="0.5982" stop-color="#1f958b"/><stop offset="0.6140" stop-color="#218e8d"/><stop offset="0.6469" stop-color="#218e8d"/><stop offset="0.6601" stop-color="#26828e"/><stop offset="0.6798" stop-color="#25848e"/><stop offset="0.6996" stop-color="#23898e"/><stop offset="0.7339" stop-color="#23898e"/><stop offset="0.7418" stop-color="#44bf70"/><stop offset="0.7642" stop-color="#63cb5f"/><stop offset="0.7760" stop-color="#1f9f88"/><stop offset="0.7984" stop-color="#20928c"/><stop offset="0.8709" stop-color="#1f958b"/><stop offset="0.9104" stop-color="#1f9f88"/><stop offset="0.9499" stop-color="#26ad81"/><stop offset="0.9736" stop-color="#44bf70"/><stop offset="0.9842" stop-color="#a2da37"/><stop offset="1.0000" stop-color="#b0dd2f"/></linearGradient><filter id="pb" x="0" y="0" width="100%" height="100%"><feGaussianBlur stdDeviation="0.45"/></filter><filter id="sb" x="-50%" y="-50%" width="200%" height="200%"><feGaussianBlur stdDeviation="0.8"/></filter><filter id="bb" x="-5%" y="-5%" width="110%" height="110%"><feGaussianBlur stdDeviation="0.5"/></filter><filter id="sb2" x="-50%" y="-50%" width="200%" height="200%"><feGaussianBlur stdDeviation="1.6"/></filter><filter id="tx" x="0" y="0" width="100%" height="100%"><feTurbulence type="fractalNoise" baseFrequency="0.9 0.35" numOctaves="2" seed="4"/><feColorMatrix type="matrix" values="0 0 0 0 0.1  0 0 0 0 0.3  0 0 0 0 0.55  0 0 0 -1.6 0.95"/></filter><clipPath id="cp0"><rect x="63.2" y="7.0" width="77.20" height="152.80"/></clipPath><clipPath id="cp1"><rect x="146.8" y="7.0" width="77.40" height="152.80"/></clipPath><clipPath id="cp2"><rect x="230.6" y="7.0" width="77.50" height="152.80"/></clipPath><clipPath id="cp3"><rect x="361.5" y="7.0" width="77.70" height="152.80"/></clipPath><clipPath id="cp4"><rect x="453.2" y="7.0" width="77.30" height="152.80"/></clipPath></defs>
<g clip-path="url(#cp0)"><g filter="url(#pb)">
<rect x="61.2" y="5.0" width="81.20" height="78.90" fill="url(#rg0)"/>
<rect x="61.2" y="83.9" width="81.20" height="77.90" fill="url(#ig)"/>
<g transform="translate(63.2 0)"><rect x="-1" y="89.8" width="1" height="13.6" fill="#2a788e" opacity="0.55"/><rect x="0" y="95.3" width="1" height="25.5" fill="#26828e" opacity="0.55"/><rect x="1" y="95.7" width="1" height="25.2" fill="#34608d" opacity="0.55"/><rect x="3" y="144" width="1" height="7.1" fill="#228d8d" opacity="0.45"/><rect x="4" y="144" width="1" height="9.3" fill="#21908d" opacity="0.45"/><rect x="5" y="88.6" width="1" height="13.0" fill="#287c8e" opacity="0.55"/><rect x="5" y="144" width="1" height="8.2" fill="#24868e" opacity="0.45"/><rect x="6" y="89.7" width="1" height="27.3" fill="#2c728e" opacity="0.55"/><rect x="6" y="144" width="1" height="10.6" fill="#1f958b" opacity="0.45"/><rect x="8" y="144" width="1" height="8.8" fill="#228d8d" opacity="0.45"/><rect x="9" y="91.0" width="1" height="11.2" fill="#2e6f8e" opacity="0.55"/><rect x="10" y="88.6" width="1" height="17.7" fill="#29798e" opacity="0.55"/><rect x="10" y="144" width="1" height="9.4" fill="#228b8d" opacity="0.45"/><rect x="11" y="92.4" width="1" height="29.1" fill="#24868e" opacity="0.55"/><rect x="11" y="144" width="1" height="7.3" fill="#228d8d" opacity="0.45"/><rect x="12" y="95.3" width="1" height="10.4" fill="#31688e" opacity="0.55"/><rect x="14" y="89.0" width="1" height="11.4" fill="#31668e" opacity="0.55"/><rect x="15" y="93.7" width="1" height="21.9" fill="#277f8e" opacity="0.55"/><rect x="16" y="94.5" width="1" height="13.2" fill="#277f8e" opacity="0.55"/><rect x="16" y="144" width="1" height="8.2" fill="#21908d" opacity="0.45"/><rect x="17" y="144" width="1" height="9.2" fill="#20928c" opacity="0.45"/><rect x="18" y="87.0" width="1" height="24.2" fill="#2a778e" opacity="0.55"/><rect x="19" y="90.9" width="1" height="20.5" fill="#2c738e" opacity="0.55"/><rect x="23" y="87.2" width="1" height="17.0" fill="#297b8e" opacity="0.55"/><rect x="23" y="144" width="1" height="9.8" fill="#1f978b" opacity="0.45"/><rect x="25" y="95.7" width="1" height="10.4" fill="#2a788e" opacity="0.55"/><rect x="25" y="144" width="1" height="7.7" fill="#20928c" opacity="0.45"/><rect x="27" y="89.3" width="1" height="25.3" fill="#228b8d" opacity="0.55"/><rect x="27" y="144" width="1" height="9.3" fill="#23898e" opacity="0.45"/><rect x="28" y="93.4" width="1" height="28.8" fill="#23898e" opacity="0.55"/><rect x="29" y="144" width="1" height="8.0" fill="#228c8d" opacity="0.45"/><rect x="30" y="87.6" width="1" height="16.2" fill="#32658e" opacity="0.55"/><rect x="30" y="144" width="1" height="8.0" fill="#1f948c" opacity="0.45"/><rect x="31" y="88.5" width="1" height="27.9" fill="#26828e" opacity="0.55"/><rect x="31" y="144" width="1" height="7.7" fill="#1f958b" opacity="0.45"/><rect x="32" y="89.5" width="1" height="23.7" fill="#306a8e" opacity="0.55"/><rect x="33" y="94.9" width="1" height="18.8" fill="#2a788e" opacity="0.55"/><rect x="34" y="88.5" width="1" height="22.6" fill="#26828e" opacity="0.55"/><rect x="35" y="144" width="1" height="8.9" fill="#1e9c89" opacity="0.45"/><rect x="36" y="91.9" width="1" height="28.0" fill="#277e8e" opacity="0.55"/><rect x="37" y="89.5" width="1" height="20.1" fill="#277e8e" opacity="0.55"/><rect x="38" y="144" width="1" height="7.1" fill="#1f9a8a" opacity="0.45"/><rect x="39" y="89.4" width="1" height="32.3" fill="#20928c" opacity="0.55"/><rect x="41" y="95.5" width="1" height="12.8" fill="#297b8e" opacity="0.55"/><rect x="42" y="91.4" width="1" height="33.6" fill="#2b758e" opacity="0.55"/><rect x="43" y="90.9" width="1" height="11.7" fill="#277e8e" opacity="0.55"/><rect x="44" y="91.2" width="1" height="33.3" fill="#277e8e" opacity="0.55"/><rect x="44" y="144" width="1" height="9.0" fill="#228c8d" opacity="0.45"/><rect x="45" y="91.2" width="1" height="21.4" fill="#32648e" opacity="0.55"/><rect x="46" y="144" width="1" height="8.1" fill="#1f958b" opacity="0.45"/><rect x="47" y="91.4" width="1" height="25.6" fill="#2e6d8e" opacity="0.55"/><rect x="48" y="91.8" width="1" height="23.0" fill="#26828e" opacity="0.55"/><rect x="48" y="144" width="1" height="8.4" fill="#1f998a" opacity="0.45"/><rect x="49" y="144" width="1" height="7.9" fill="#1f988b" opacity="0.45"/><rect x="50" y="90.4" width="1" height="19.7" fill="#31688e" opacity="0.55"/><rect x="51" y="144" width="1" height="8.2" fill="#23898e" opacity="0.45"/><rect x="52" y="95.4" width="1" height="19.7" fill="#287d8e" opacity="0.55"/><rect x="53" y="88.8" width="1" height="21.7" fill="#31668e" opacity="0.55"/><rect x="54" y="94.9" width="1" height="14.2" fill="#2a768e" opacity="0.55"/><rect x="55" y="91.4" width="1" height="21.9" fill="#2a768e" opacity="0.55"/><rect x="57" y="93.2" width="1" height="31.8" fill="#32648e" opacity="0.55"/><rect x="58" y="95.2" width="1" height="17.3" fill="#287d8e" opacity="0.55"/><rect x="59" y="144" width="1" height="7.9" fill="#218e8d" opacity="0.45"/><rect x="60" y="94.5" width="1" height="20.5" fill="#297a8e" opacity="0.55"/><rect x="61" y="87.6" width="1" height="17.4" fill="#2f6c8e" opacity="0.55"/><rect x="61" y="144" width="1" height="8.9" fill="#26828e" opacity="0.45"/><rect x="62" y="144" width="1" height="11.0" fill="#1f968b" opacity="0.45"/><rect x="63" y="95.2" width="1" height="32.1" fill="#23888e" opacity="0.55"/><rect x="64" y="87.4" width="1" height="21.2" fill="#25838e" opacity="0.55"/><rect x="65" y="90.2" width="1" height="12.2" fill="#2b748e" opacity="0.55"/><rect x="65" y="144" width="1" height="7.0" fill="#228d8d" opacity="0.45"/><rect x="68" y="89.7" width="1" height="14.7" fill="#23888e" opacity="0.55"/><rect x="68" y="144" width="1" height="10.6" fill="#20928c" opacity="0.45"/><rect x="69" y="144" width="1" height="10.3" fill="#1f998a" opacity="0.45"/><rect x="70" y="87.9" width="1" height="20.6" fill="#2a788e" opacity="0.55"/><rect x="71" y="90.0" width="1" height="33.2" fill="#2a778e" opacity="0.55"/><rect x="71" y="144" width="1" height="8.3" fill="#20938c" opacity="0.45"/><rect x="74" y="87.7" width="1" height="16.6" fill="#287d8e" opacity="0.55"/><rect x="74" y="144" width="1" height="7.2" fill="#228d8d" opacity="0.45"/><rect x="75" y="94.2" width="1" height="35.3" fill="#26818e" opacity="0.55"/><rect x="76" y="89.4" width="1" height="30.1" fill="#25848e" opacity="0.55"/><rect x="76" y="144" width="1" height="9.4" fill="#228d8d" opacity="0.45"/><ellipse cx="52.7" cy="94.5" rx="1.7" ry="5.5" fill="#228b8d" opacity="0.7" filter="url(#sb)"/><ellipse cx="62.2" cy="94.5" rx="1.7" ry="5.5" fill="#228b8d" opacity="0.7" filter="url(#sb)"/><ellipse cx="38" cy="94" rx="1.6" ry="5" fill="#24868e" opacity="0.7" filter="url(#sb)"/><ellipse cx="45" cy="92" rx="1.4" ry="4" fill="#25848e" opacity="0.7" filter="url(#sb)"/><ellipse cx="19" cy="122" rx="5" ry="1.5" fill="#1e9c89" opacity="0.7" filter="url(#sb)"/><ellipse cx="30" cy="123" rx="4" ry="1.3" fill="#1e9c89" opacity="0.7" filter="url(#sb)"/><ellipse cx="58" cy="124" rx="5" ry="1.2" fill="#1f978b" opacity="0.7" filter="url(#sb)"/><ellipse cx="23" cy="131.6" rx="2.6" ry="1.0" fill="#9bd93c" opacity="0.95" filter="url(#bb)"/><ellipse cx="41.5" cy="131.6" rx="2.6" ry="1.0" fill="#9bd93c" opacity="0.95" filter="url(#bb)"/><ellipse cx="61.5" cy="131.6" rx="2.6" ry="1.0" fill="#9bd93c" opacity="0.95" filter="url(#bb)"/><rect x="1.5" y="129.8" width="1.8" height="0.9" fill="#26ad81" opacity="0.45"/><rect x="5.6" y="129.3" width="1.5" height="0.9" fill="#26ad81" opacity="0.62"/><rect x="9.7" y="129.5" width="1.4" height="0.9" fill="#26ad81" opacity="0.58"/><rect x="13.8" y="129.7" width="1.5" height="0.9" fill="#26ad81" opacity="0.77"/><rect x="17.9" y="130.3" width="1.2" height="0.9" fill="#26ad81" opacity="0.59"/><rect x="26.1" y="129.5" width="1.5" height="0.9" fill="#26ad81" opacity="0.41"/><rect x="30.2" y="129.3" width="1.2" height="0.9" fill="#26ad81" opacity="0.45"/><rect x="34.3" y="130.0" width="1.3" height="0.9" fill="#26ad81" opacity="0.75"/><rect x="46.6" y="130.2" width="1.5" height="0.9" fill="#26ad81" opacity="0.68"/><rect x="50.7" y="130.3" width="1.3" height="0.9" fill="#26ad81" opacity="0.62"/><rect x="54.8" y="129.8" width="1.5" height="0.9" fill="#26ad81" opacity="0.52"/><rect x="67.1" y="129.3" width="1.8" height="0.9" fill="#26ad81" opacity="0.48"/><rect x="71.2" y="129.7" width="2.1" height="0.9" fill="#26ad81" opacity="0.54"/><rect x="75.3" y="129.6" width="2.1" height="0.9" fill="#26ad81" opacity="0.63"/><rect x="4.1" y="124.6" width="1.2" height="0.9" fill="#22a884" opacity="0.56"/><rect x="7.1" y="125.4" width="1.2" height="0.9" fill="#22a884" opacity="0.46"/><rect x="9.8" y="126.2" width="1.2" height="0.9" fill="#22a884" opacity="0.58"/><rect x="14.8" y="124.8" width="1.2" height="0.9" fill="#22a884" opacity="0.41"/><rect x="16.5" y="124.8" width="1.2" height="0.9" fill="#22a884" opacity="0.43"/><rect x="19.9" y="124.7" width="1.2" height="0.9" fill="#22a884" opacity="0.42"/><rect x="24.5" y="125.2" width="1.2" height="0.9" fill="#22a884" opacity="0.63"/><rect x="26.2" y="124.6" width="1.2" height="0.9" fill="#22a884" opacity="0.68"/><rect x="29.5" y="124.3" width="1.2" height="0.9" fill="#22a884" opacity="0.51"/><rect x="33.3" y="124.6" width="1.2" height="0.9" fill="#22a884" opacity="0.54"/><rect x="37.2" y="124.6" width="1.2" height="0.9" fill="#22a884" opacity="0.52"/><rect x="40.2" y="126.1" width="1.2" height="0.9" fill="#22a884" opacity="0.33"/><rect x="43.1" y="125.5" width="1.2" height="0.9" fill="#22a884" opacity="0.31"/><rect x="47.6" y="126.4" width="1.2" height="0.9" fill="#22a884" opacity="0.43"/><rect x="50.7" y="124.7" width="1.2" height="0.9" fill="#22a884" opacity="0.68"/><rect x="52.9" y="124.1" width="1.2" height="0.9" fill="#22a884" opacity="0.33"/><rect x="56.7" y="124.2" width="1.2" height="0.9" fill="#22a884" opacity="0.69"/><rect x="60.4" y="125.5" width="1.2" height="0.9" fill="#22a884" opacity="0.55"/><rect x="63.2" y="126.2" width="1.2" height="0.9" fill="#22a884" opacity="0.59"/><rect x="66.6" y="124.8" width="1.2" height="0.9" fill="#22a884" opacity="0.36"/><rect x="69.6" y="124.9" width="1.2" height="0.9" fill="#22a884" opacity="0.33"/><rect x="74.1" y="124.7" width="1.2" height="0.9" fill="#22a884" opacity="0.52"/><rect x="30.9" y="87" width="0.9" height="24" fill="#32b67a" opacity="0.55"/><rect x="30.6" y="92" width="1.4" height="12" fill="#4ec36b" opacity="0.35"/></g>
<rect x="63.2" y="12.0" width="1" height="35.9" fill="#24868e" opacity="0.3"/><rect x="64.2" y="12.0" width="1" height="33.0" fill="#277f8e" opacity="0.3"/><rect x="65.2" y="12.0" width="1" height="34.0" fill="#287d8e" opacity="0.3"/><rect x="67.2" y="12.0" width="1" height="36.2" fill="#20938c" opacity="0.3"/><rect x="70.2" y="12.0" width="1" height="34.5" fill="#218e8d" opacity="0.3"/><rect x="72.2" y="12.0" width="1" height="36.3" fill="#1f978b" opacity="0.3"/><rect x="73.2" y="12.0" width="1" height="34.0" fill="#26828e" opacity="0.3"/><rect x="78.2" y="12.0" width="1" height="33.8" fill="#23888e" opacity="0.3"/><rect x="79.2" y="12.0" width="1" height="36.2" fill="#1e9b8a" opacity="0.3"/><rect x="80.2" y="12.0" width="1" height="35.2" fill="#1f948c" opacity="0.3"/><rect x="82.2" y="12.0" width="1" height="36.2" fill="#25848e" opacity="0.3"/><rect x="83.2" y="12.0" width="1" height="37.1" fill="#26828e" opacity="0.3"/><rect x="85.2" y="12.0" width="1" height="37.1" fill="#24868e" opacity="0.3"/><rect x="86.2" y="12.0" width="1" height="36.6" fill="#26828e" opacity="0.3"/><rect x="87.2" y="12.0" width="1" height="35.3" fill="#21918c" opacity="0.3"/><rect x="92.2" y="12.0" width="1" height="35.8" fill="#228b8d" opacity="0.3"/><rect x="93.2" y="12.0" width="1" height="35.2" fill="#277e8e" opacity="0.3"/><rect x="100.2" y="12.0" width="1" height="35.8" fill="#228d8d" opacity="0.3"/><rect x="101.2" y="12.0" width="1" height="34.4" fill="#297b8e" opacity="0.3"/><rect x="103.2" y="12.0" width="1" height="37.4" fill="#228b8d" opacity="0.3"/><rect x="105.2" y="12.0" width="1" height="35.2" fill="#2a778e" opacity="0.3"/><rect x="106.2" y="12.0" width="1" height="37.8" fill="#20928c" opacity="0.3"/><rect x="108.2" y="12.0" width="1" height="37.7" fill="#26828e" opacity="0.3"/><rect x="109.2" y="12.0" width="1" height="36.8" fill="#25848e" opacity="0.3"/><rect x="111.2" y="12.0" width="1" height="37.9" fill="#23888e" opacity="0.3"/><rect x="112.2" y="12.0" width="1" height="32.5" fill="#238a8d" opacity="0.3"/><rect x="117.2" y="12.0" width="1" height="36.9" fill="#1f9f88" opacity="0.3"/><rect x="118.2" y="12.0" width="1" height="33.4" fill="#287c8e" opacity="0.3"/><rect x="120.2" y="12.0" width="1" height="36.0" fill="#2a788e" opacity="0.3"/><rect x="124.2" y="12.0" width="1" height="35.8" fill="#20928c" opacity="0.3"/><rect x="128.2" y="12.0" width="1" height="36.4" fill="#2b758e" opacity="0.3"/><rect x="130.2" y="12.0" width="1" height="32.1" fill="#25848e" opacity="0.3"/><rect x="131.2" y="12.0" width="1" height="33.2" fill="#23888e" opacity="0.3"/><rect x="132.2" y="12.0" width="1" height="34.1" fill="#25848e" opacity="0.3"/><rect x="133.2" y="12.0" width="1" height="34.6" fill="#24878e" opacity="0.3"/><rect x="136.2" y="12.0" width="1" height="33.6" fill="#228b8d" opacity="0.3"/><rect x="138.2" y="12.0" width="1" height="36.4" fill="#20928c" opacity="0.3"/>
<g filter="url(#bb)"><rect x="64.2" y="16.1" width="4.3" height="3.0" rx="0.8" fill="#365d8d" opacity="0.80"/><rect x="72.0" y="16.1" width="4.3" height="3.0" rx="0.8" fill="#365d8d" opacity="0.80"/><rect x="79.8" y="16.1" width="4.3" height="3.0" rx="0.8" fill="#365d8d" opacity="0.80"/><rect x="87.6" y="16.1" width="4.3" height="3.0" rx="0.8" fill="#365d8d" opacity="0.80"/><rect x="95.4" y="16.1" width="4.3" height="3.0" rx="0.8" fill="#365d8d" opacity="0.80"/><rect x="103.2" y="16.1" width="4.3" height="3.0" rx="0.8" fill="#365d8d" opacity="0.80"/><rect x="111.0" y="16.1" width="4.3" height="3.0" rx="0.8" fill="#365d8d" opacity="0.80"/><rect x="118.8" y="16.1" width="4.3" height="3.0" rx="0.8" fill="#365d8d" opacity="0.80"/><rect x="126.6" y="16.1" width="4.3" height="3.0" rx="0.8" fill="#365d8d" opacity="0.80"/><rect x="134.4" y="16.1" width="4.3" height="3.0" rx="0.8" fill="#365d8d" opacity="0.80"/><rect x="64.2" y="23.7" width="4.3" height="3.0" rx="0.8" fill="#365d8d" opacity="0.80"/><rect x="72.0" y="23.7" width="4.3" height="3.0" rx="0.8" fill="#365d8d" opacity="0.80"/><rect x="79.8" y="23.7" width="4.3" height="3.0" rx="0.8" fill="#365d8d" opacity="0.80"/><rect x="87.6" y="23.7" width="4.3" height="3.0" rx="0.8" fill="#365d8d" opacity="0.80"/><rect x="95.4" y="23.7" width="4.3" height="3.0" rx="0.8" fill="#365d8d" opacity="0.80"/><rect x="103.2" y="23.7" width="4.3" height="3.0" rx="0.8" fill="#365d8d" opacity="0.80"/><rect x="111.0" y="23.7" width="4.3" height="3.0" rx="0.8" fill="#365d8d" opacity="0.80"/><rect x="118.8" y="23.7" width="4.3" height="3.0" rx="0.8" fill="#365d8d" opacity="0.80"/><rect x="126.6" y="23.7" width="4.3" height="3.0" rx="0.8" fill="#365d8d" opacity="0.80"/><rect x="134.4" y="23.7" width="4.3" height="3.0" rx="0.8" fill="#365d8d" opacity="0.80"/><rect x="64.2" y="31.3" width="4.3" height="3.0" rx="0.8" fill="#365d8d" opacity="0.80"/><rect x="72.0" y="31.3" width="4.3" height="3.0" rx="0.8" fill="#365d8d" opacity="0.80"/><rect x="79.8" y="31.3" width="4.3" height="3.0" rx="0.8" fill="#365d8d" opacity="0.80"/><rect x="87.6" y="31.3" width="4.3" height="3.0" rx="0.8" fill="#365d8d" opacity="0.80"/><rect x="95.4" y="31.3" width="4.3" height="3.0" rx="0.8" fill="#365d8d" opacity="0.80"/><rect x="103.2" y="31.3" width="4.3" height="3.0" rx="0.8" fill="#365d8d" opacity="0.80"/><rect x="111.0" y="31.3" width="4.3" height="3.0" rx="0.8" fill="#365d8d" opacity="0.80"/><rect x="118.8" y="31.3" width="4.3" height="3.0" rx="0.8" fill="#365d8d" opacity="0.80"/><rect x="126.6" y="31.3" width="4.3" height="3.0" rx="0.8" fill="#365d8d" opacity="0.80"/><rect x="134.4" y="31.3" width="4.3" height="3.0" rx="0.8" fill="#365d8d" opacity="0.80"/><rect x="64.2" y="38.9" width="4.3" height="3.0" rx="0.8" fill="#365d8d" opacity="0.80"/><rect x="72.0" y="38.9" width="4.3" height="3.0" rx="0.8" fill="#365d8d" opacity="0.80"/><rect x="79.8" y="38.9" width="4.3" height="3.0" rx="0.8" fill="#365d8d" opacity="0.80"/><rect x="87.6" y="38.9" width="4.3" height="3.0" rx="0.8" fill="#365d8d" opacity="0.80"/><rect x="95.4" y="38.9" width="4.3" height="3.0" rx="0.8" fill="#365d8d" opacity="0.80"/><rect x="103.2" y="38.9" width="4.3" height="3.0" rx="0.8" fill="#365d8d" opacity="0.80"/><rect x="111.0" y="38.9" width="4.3" height="3.0" rx="0.8" fill="#365d8d" opacity="0.80"/><rect x="118.8" y="38.9" width="4.3" height="3.0" rx="0.8" fill="#365d8d" opacity="0.80"/><rect x="126.6" y="38.9" width="4.3" height="3.0" rx="0.8" fill="#365d8d" opacity="0.80"/><rect x="134.4" y="38.9" width="4.3" height="3.0" rx="0.8" fill="#365d8d" opacity="0.80"/><rect x="64.2" y="46.5" width="4.3" height="3.0" rx="0.8" fill="#365d8d" opacity="0.80"/><rect x="72.0" y="46.5" width="4.3" height="3.0" rx="0.8" fill="#365d8d" opacity="0.80"/><rect x="79.8" y="46.5" width="4.3" height="3.0" rx="0.8" fill="#365d8d" opacity="0.80"/><rect x="87.6" y="46.5" width="4.3" height="3.0" rx="0.8" fill="#365d8d" opacity="0.80"/><rect x="95.4" y="46.5" width="4.3" height="3.0" rx="0.8" fill="#365d8d" opacity="0.80"/><rect x="103.2" y="46.5" width="4.3" height="3.0" rx="0.8" fill="#365d8d" opacity="0.80"/><rect x="111.0" y="46.5" width="4.3" height="3.0" rx="0.8" fill="#365d8d" opacity="0.80"/><rect x="118.8" y="46.5" width="4.3" height="3.0" rx="0.8" fill="#365d8d" opacity="0.80"/><rect x="126.6" y="46.5" width="4.3" height="3.0" rx="0.8" fill="#365d8d" opacity="0.80"/><rect x="134.4" y="46.5" width="4.3" height="3.0" rx="0.8" fill="#365d8d" opacity="0.80"/><rect x="64.2" y="54.1" width="4.3" height="3.0" rx="0.8" fill="#365d8d" opacity="0.80"/><rect x="72.0" y="54.1" width="4.3" height="3.0" rx="0.8" fill="#365d8d" opacity="0.80"/><rect x="87.6" y="54.1" width="4.3" height="3.0" rx="0.8" fill="#365d8d" opacity="0.80"/><rect x="95.4" y="54.1" width="4.3" height="3.0" rx="0.8" fill="#365d8d" opacity="0.80"/><rect x="111.0" y="54.1" width="4.3" height="3.0" rx="0.8" fill="#365d8d" opacity="0.80"/><rect x="126.6" y="54.1" width="4.3" height="3.0" rx="0.8" fill="#365d8d" opacity="0.80"/><rect x="134.4" y="54.1" width="4.3" height="3.0" rx="0.8" fill="#365d8d" opacity="0.80"/><rect x="64.3" y="8.4" width="2.8" height="2.2" fill="#460b5e" opacity="0.70"/><rect x="72.4" y="8.4" width="2.8" height="2.2" fill="#460b5e" opacity="0.70"/><rect x="79.8" y="8.4" width="2.8" height="2.2" fill="#460b5e" opacity="0.70"/><rect x="88.2" y="8.4" width="2.8" height="2.2" fill="#460b5e" opacity="0.70"/><rect x="96.1" y="8.4" width="2.8" height="2.2" fill="#460b5e" opacity="0.70"/><rect x="103.5" y="8.4" width="2.8" height="2.2" fill="#460b5e" opacity="0.70"/><rect x="111.1" y="8.4" width="2.8" height="2.2" fill="#460b5e" opacity="0.70"/><rect x="119.4" y="8.4" width="2.8" height="2.2" fill="#460b5e" opacity="0.70"/><rect x="126.8" y="8.4" width="2.8" height="2.2" fill="#460b5e" opacity="0.70"/><rect x="134.6" y="8.4" width="2.8" height="2.2" fill="#460b5e" opacity="0.70"/></g>
<ellipse cx="94.2" cy="28.5" rx="2.6" ry="4.5" fill="#32b67a" opacity="0.8" filter="url(#sb)"/><ellipse cx="86.2" cy="55.7" rx="3.4" ry="1.4" fill="#9bd93c" opacity="0.95" filter="url(#sb)"/><ellipse cx="86.2" cy="58.3" rx="2.5" ry="0.9" fill="#2f6c8e" opacity="0.4" filter="url(#sb)"/><ellipse cx="104.7" cy="55.7" rx="3.4" ry="1.4" fill="#9bd93c" opacity="0.95" filter="url(#sb)"/><ellipse cx="104.7" cy="58.3" rx="2.5" ry="0.9" fill="#2f6c8e" opacity="0.4" filter="url(#sb)"/><ellipse cx="125.2" cy="55.7" rx="3.4" ry="1.4" fill="#9bd93c" opacity="0.95" filter="url(#sb)"/><ellipse cx="125.2" cy="58.3" rx="2.5" ry="0.9" fill="#2f6c8e" opacity="0.4" filter="url(#sb)"/>
<rect x="63.2" y="7.0" width="77.20" height="152.80" filter="url(#tx)" opacity="0.18"/>
</g>
<rect x="63.2" y="7.0" width="77.20" height="0.75" fill="#e9f2a8"/>
<rect x="63.2" y="7.0" width="1" height="152.8" fill="#44bf70" opacity="0.6"/>
<rect x="139.4" y="7.0" width="1" height="76.9" fill="#b0dd2f" opacity="0.7"/><rect x="139.4" y="83.9" width="1" height="75.9" fill="#44bf70" opacity="0.45"/>
</g>
<g clip-path="url(#cp1)"><g filter="url(#pb)">
<rect x="144.8" y="5.0" width="81.40" height="78.90" fill="url(#rg1)"/>
<rect x="144.8" y="83.9" width="81.40" height="77.90" fill="url(#ig)"/>
<g transform="translate(146.8 0)"><rect x="-1" y="89.8" width="1" height="13.6" fill="#2a788e" opacity="0.55"/><rect x="0" y="95.3" width="1" height="25.5" fill="#26828e" opacity="0.55"/><rect x="1" y="95.7" width="1" height="25.2" fill="#34608d" opacity="0.55"/><rect x="3" y="144" width="1" height="7.1" fill="#228d8d" opacity="0.45"/><rect x="4" y="144" width="1" height="9.3" fill="#21908d" opacity="0.45"/><rect x="5" y="88.6" width="1" height="13.0" fill="#287c8e" opacity="0.55"/><rect x="5" y="144" width="1" height="8.2" fill="#24868e" opacity="0.45"/><rect x="6" y="89.7" width="1" height="27.3" fill="#2c728e" opacity="0.55"/><rect x="6" y="144" width="1" height="10.6" fill="#1f958b" opacity="0.45"/><rect x="8" y="144" width="1" height="8.8" fill="#228d8d" opacity="0.45"/><rect x="9" y="91.0" width="1" height="11.2" fill="#2e6f8e" opacity="0.55"/><rect x="10" y="88.6" width="1" height="17.7" fill="#29798e" opacity="0.55"/><rect x="10" y="144" width="1" height="9.4" fill="#228b8d" opacity="0.45"/><rect x="11" y="92.4" width="1" height="29.1" fill="#24868e" opacity="0.55"/><rect x="11" y="144" width="1" height="7.3" fill="#228d8d" opacity="0.45"/><rect x="12" y="95.3" width="1" height="10.4" fill="#31688e" opacity="0.55"/><rect x="14" y="89.0" width="1" height="11.4" fill="#31668e" opacity="0.55"/><rect x="15" y="93.7" width="1" height="21.9" fill="#277f8e" opacity="0.55"/><rect x="16" y="94.5" width="1" height="13.2" fill="#277f8e" opacity="0.55"/><rect x="16" y="144" width="1" height="8.2" fill="#21908d" opacity="0.45"/><rect x="17" y="144" width="1" height="9.2" fill="#20928c" opacity="0.45"/><rect x="18" y="87.0" width="1" height="24.2" fill="#2a778e" opacity="0.55"/><rect x="19" y="90.9" width="1" height="20.5" fill="#2c738e" opacity="0.55"/><rect x="23" y="87.2" width="1" height="17.0" fill="#297b8e" opacity="0.55"/><rect x="23" y="144" width="1" height="9.8" fill="#1f978b" opacity="0.45"/><rect x="25" y="95.7" width="1" height="10.4" fill="#2a788e" opacity="0.55"/><rect x="25" y="144" width="1" height="7.7" fill="#20928c" opacity="0.45"/><rect x="27" y="89.3" width="1" height="25.3" fill="#228b8d" opacity="0.55"/><rect x="27" y="144" width="1" height="9.3" fill="#23898e" opacity="0.45"/><rect x="28" y="93.4" width="1" height="28.8" fill="#23898e" opacity="0.55"/><rect x="29" y="144" width="1" height="8.0" fill="#228c8d" opacity="0.45"/><rect x="30" y="87.6" width="1" height="16.2" fill="#32658e" opacity="0.55"/><rect x="30" y="144" width="1" height="8.0" fill="#1f948c" opacity="0.45"/><rect x="31" y="88.5" width="1" height="27.9" fill="#26828e" opacity="0.55"/><rect x="31" y="144" width="1" height="7.7" fill="#1f958b" opacity="0.45"/><rect x="32" y="89.5" width="1" height="23.7" fill="#306a8e" opacity="0.55"/><rect x="33" y="94.9" width="1" height="18.8" fill="#2a788e" opacity="0.55"/><rect x="34" y="88.5" width="1" height="22.6" fill="#26828e" opacity="0.55"/><rect x="35" y="144" width="1" height="8.9" fill="#1e9c89" opacity="0.45"/><rect x="36" y="91.9" width="1" height="28.0" fill="#277e8e" opacity="0.55"/><rect x="37" y="89.5" width="1" height="20.1" fill="#277e8e" opacity="0.55"/><rect x="38" y="144" width="1" height="7.1" fill="#1f9a8a" opacity="0.45"/><rect x="39" y="89.4" width="1" height="32.3" fill="#20928c" opacity="0.55"/><rect x="41" y="95.5" width="1" height="12.8" fill="#297b8e" opacity="0.55"/><rect x="42" y="91.4" width="1" height="33.6" fill="#2b758e" opacity="0.55"/><rect x="43" y="90.9" width="1" height="11.7" fill="#277e8e" opacity="0.55"/><rect x="44" y="91.2" width="1" height="33.3" fill="#277e8e" opacity="0.55"/><rect x="44" y="144" width="1" height="9.0" fill="#228c8d" opacity="0.45"/><rect x="45" y="91.2" width="1" height="21.4" fill="#32648e" opacity="0.55"/><rect x="46" y="144" width="1" height="8.1" fill="#1f958b" opacity="0.45"/><rect x="47" y="91.4" width="1" height="25.6" fill="#2e6d8e" opacity="0.55"/><rect x="48" y="91.8" width="1" height="23.0" fill="#26828e" opacity="0.55"/><rect x="48" y="144" width="1" height="8.4" fill="#1f998a" opacity="0.45"/><rect x="49" y="144" width="1" height="7.9" fill="#1f988b" opacity="0.45"/><rect x="50" y="90.4" width="1" height="19.7" fill="#31688e" opacity="0.55"/><rect x="51" y="144" width="1" height="8.2" fill="#23898e" opacity="0.45"/><rect x="52" y="95.4" width="1" height="19.7" fill="#287d8e" opacity="0.55"/><rect x="53" y="88.8" width="1" height="21.7" fill="#31668e" opacity="0.55"/><rect x="54" y="94.9" width="1" height="14.2" fill="#2a768e" opacity="0.55"/><rect x="55" y="91.4" width="1" height="21.9" fill="#2a768e" opacity="0.55"/><rect x="57" y="93.2" width="1" height="31.8" fill="#32648e" opacity="0.55"/><rect x="58" y="95.2" width="1" height="17.3" fill="#287d8e" opacity="0.55"/><rect x="59" y="144" width="1" height="7.9" fill="#218e8d" opacity="0.45"/><rect x="60" y="94.5" width="1" height="20.5" fill="#297a8e" opacity="0.55"/><rect x="61" y="87.6" width="1" height="17.4" fill="#2f6c8e" opacity="0.55"/><rect x="61" y="144" width="1" height="8.9" fill="#26828e" opacity="0.45"/><rect x="62" y="144" width="1" height="11.0" fill="#1f968b" opacity="0.45"/><rect x="63" y="95.2" width="1" height="32.1" fill="#23888e" opacity="0.55"/><rect x="64" y="87.4" width="1" height="21.2" fill="#25838e" opacity="0.55"/><rect x="65" y="90.2" width="1" height="12.2" fill="#2b748e" opacity="0.55"/><rect x="65" y="144" width="1" height="7.0" fill="#228d8d" opacity="0.45"/><rect x="68" y="89.7" width="1" height="14.7" fill="#23888e" opacity="0.55"/><rect x="68" y="144" width="1" height="10.6" fill="#20928c" opacity="0.45"/><rect x="69" y="144" width="1" height="10.3" fill="#1f998a" opacity="0.45"/><rect x="70" y="87.9" width="1" height="20.6" fill="#2a788e" opacity="0.55"/><rect x="71" y="90.0" width="1" height="33.2" fill="#2a778e" opacity="0.55"/><rect x="71" y="144" width="1" height="8.3" fill="#20938c" opacity="0.45"/><rect x="74" y="87.7" width="1" height="16.6" fill="#287d8e" opacity="0.55"/><rect x="74" y="144" width="1" height="7.2" fill="#228d8d" opacity="0.45"/><rect x="75" y="94.2" width="1" height="35.3" fill="#26818e" opacity="0.55"/><rect x="76" y="89.4" width="1" height="30.1" fill="#25848e" opacity="0.55"/><rect x="76" y="144" width="1" height="9.4" fill="#228d8d" opacity="0.45"/><ellipse cx="52.7" cy="94.5" rx="1.7" ry="5.5" fill="#228b8d" opacity="0.7" filter="url(#sb)"/><ellipse cx="62.2" cy="94.5" rx="1.7" ry="5.5" fill="#228b8d" opacity="0.7" filter="url(#sb)"/><ellipse cx="38" cy="94" rx="1.6" ry="5" fill="#24868e" opacity="0.7" filter="url(#sb)"/><ellipse cx="45" cy="92" rx="1.4" ry="4" fill="#25848e" opacity="0.7" filter="url(#sb)"/><ellipse cx="19" cy="122" rx="5" ry="1.5" fill="#1e9c89" opacity="0.7" filter="url(#sb)"/><ellipse cx="30" cy="123" rx="4" ry="1.3" fill="#1e9c89" opacity="0.7" filter="url(#sb)"/><ellipse cx="58" cy="124" rx="5" ry="1.2" fill="#1f978b" opacity="0.7" filter="url(#sb)"/><ellipse cx="23" cy="131.6" rx="2.6" ry="1.0" fill="#9bd93c" opacity="0.95" filter="url(#bb)"/><ellipse cx="41.5" cy="131.6" rx="2.6" ry="1.0" fill="#9bd93c" opacity="0.95" filter="url(#bb)"/><ellipse cx="61.5" cy="131.6" rx="2.6" ry="1.0" fill="#9bd93c" opacity="0.95" filter="url(#bb)"/><rect x="1.5" y="129.8" width="1.8" height="0.9" fill="#26ad81" opacity="0.45"/><rect x="5.6" y="129.3" width="1.5" height="0.9" fill="#26ad81" opacity="0.62"/><rect x="9.7" y="129.5" width="1.4" height="0.9" fill="#26ad81" opacity="0.58"/><rect x="13.8" y="129.7" width="1.5" height="0.9" fill="#26ad81" opacity="0.77"/><rect x="17.9" y="130.3" width="1.2" height="0.9" fill="#26ad81" opacity="0.59"/><rect x="26.1" y="129.5" width="1.5" height="0.9" fill="#26ad81" opacity="0.41"/><rect x="30.2" y="129.3" width="1.2" height="0.9" fill="#26ad81" opacity="0.45"/><rect x="34.3" y="130.0" width="1.3" height="0.9" fill="#26ad81" opacity="0.75"/><rect x="46.6" y="130.2" width="1.5" height="0.9" fill="#26ad81" opacity="0.68"/><rect x="50.7" y="130.3" width="1.3" height="0.9" fill="#26ad81" opacity="0.62"/><rect x="54.8" y="129.8" width="1.5" height="0.9" fill="#26ad81" opacity="0.52"/><rect x="67.1" y="129.3" width="1.8" height="0.9" fill="#26ad81" opacity="0.48"/><rect x="71.2" y="129.7" width="2.1" height="0.9" fill="#26ad81" opacity="0.54"/><rect x="75.3" y="129.6" width="2.1" height="0.9" fill="#26ad81" opacity="0.63"/><rect x="4.1" y="124.6" width="1.2" height="0.9" fill="#22a884" opacity="0.56"/><rect x="7.1" y="125.4" width="1.2" height="0.9" fill="#22a884" opacity="0.46"/><rect x="9.8" y="126.2" width="1.2" height="0.9" fill="#22a884" opacity="0.58"/><rect x="14.8" y="124.8" width="1.2" height="0.9" fill="#22a884" opacity="0.41"/><rect x="16.5" y="124.8" width="1.2" height="0.9" fill="#22a884" opacity="0.43"/><rect x="19.9" y="124.7" width="1.2" height="0.9" fill="#22a884" opacity="0.42"/><rect x="24.5" y="125.2" width="1.2" height="0.9" fill="#22a884" opacity="0.63"/><rect x="26.2" y="124.6" width="1.2" height="0.9" fill="#22a884" opacity="0.68"/><rect x="29.5" y="124.3" width="1.2" height="0.9" fill="#22a884" opacity="0.51"/><rect x="33.3" y="124.6" width="1.2" height="0.9" fill="#22a884" opacity="0.54"/><rect x="37.2" y="124.6" width="1.2" height="0.9" fill="#22a884" opacity="0.52"/><rect x="40.2" y="126.1" width="1.2" height="0.9" fill="#22a884" opacity="0.33"/><rect x="43.1" y="125.5" width="1.2" height="0.9" fill="#22a884" opacity="0.31"/><rect x="47.6" y="126.4" width="1.2" height="0.9" fill="#22a884" opacity="0.43"/><rect x="50.7" y="124.7" width="1.2" height="0.9" fill="#22a884" opacity="0.68"/><rect x="52.9" y="124.1" width="1.2" height="0.9" fill="#22a884" opacity="0.33"/><rect x="56.7" y="124.2" width="1.2" height="0.9" fill="#22a884" opacity="0.69"/><rect x="60.4" y="125.5" width="1.2" height="0.9" fill="#22a884" opacity="0.55"/><rect x="63.2" y="126.2" width="1.2" height="0.9" fill="#22a884" opacity="0.59"/><rect x="66.6" y="124.8" width="1.2" height="0.9" fill="#22a884" opacity="0.36"/><rect x="69.6" y="124.9" width="1.2" height="0.9" fill="#22a884" opacity="0.33"/><rect x="74.1" y="124.7" width="1.2" height="0.9" fill="#22a884" opacity="0.52"/><rect x="30.9" y="87" width="0.9" height="24" fill="#32b67a" opacity="0.55"/><rect x="30.6" y="92" width="1.4" height="12" fill="#4ec36b" opacity="0.35"/></g>
<rect x="146.8" y="12.0" width="1" height="34.2" fill="#228b8d" opacity="0.3"/><rect x="148.8" y="12.0" width="1" height="32.8" fill="#25848e" opacity="0.3"/><rect x="149.8" y="12.0" width="1" height="34.6" fill="#228d8d" opacity="0.3"/><rect x="150.8" y="12.0" width="1" height="37.3" fill="#1f988b" opacity="0.3"/><rect x="151.8" y="12.0" width="1" height="35.4" fill="#26818e" opacity="0.3"/><rect x="152.8" y="12.0" width="1" height="33.7" fill="#25858e" opacity="0.3"/><rect x="154.8" y="12.0" width="1" height="33.4" fill="#277f8e" opacity="0.3"/><rect x="155.8" y="12.0" width="1" height="37.5" fill="#25838e" opacity="0.3"/><rect x="157.8" y="12.0" width="1" height="34.3" fill="#25858e" opacity="0.3"/><rect x="159.8" y="12.0" width="1" height="33.3" fill="#228c8d" opacity="0.3"/><rect x="161.8" y="12.0" width="1" height="34.6" fill="#24878e" opacity="0.3"/><rect x="165.8" y="12.0" width="1" height="37.8" fill="#218f8d" opacity="0.3"/><rect x="166.8" y="12.0" width="1" height="33.4" fill="#1f988b" opacity="0.3"/><rect x="169.8" y="12.0" width="1" height="34.1" fill="#297b8e" opacity="0.3"/><rect x="170.8" y="12.0" width="1" height="32.3" fill="#277f8e" opacity="0.3"/><rect x="171.8" y="12.0" width="1" height="32.8" fill="#287d8e" opacity="0.3"/><rect x="173.8" y="12.0" width="1" height="37.0" fill="#25858e" opacity="0.3"/><rect x="174.8" y="12.0" width="1" height="36.9" fill="#23888e" opacity="0.3"/><rect x="175.8" y="12.0" width="1" height="37.7" fill="#287d8e" opacity="0.3"/><rect x="176.8" y="12.0" width="1" height="33.8" fill="#1f958b" opacity="0.3"/><rect x="178.8" y="12.0" width="1" height="37.6" fill="#277f8e" opacity="0.3"/><rect x="180.8" y="12.0" width="1" height="32.8" fill="#218e8d" opacity="0.3"/><rect x="181.8" y="12.0" width="1" height="35.9" fill="#27808e" opacity="0.3"/><rect x="185.8" y="12.0" width="1" height="32.0" fill="#218f8d" opacity="0.3"/><rect x="186.8" y="12.0" width="1" height="34.7" fill="#20928c" opacity="0.3"/><rect x="192.8" y="12.0" width="1" height="34.5" fill="#20928c" opacity="0.3"/><rect x="194.8" y="12.0" width="1" height="33.0" fill="#287d8e" opacity="0.3"/><rect x="197.8" y="12.0" width="1" height="35.9" fill="#25838e" opacity="0.3"/><rect x="199.8" y="12.0" width="1" height="33.4" fill="#1f958b" opacity="0.3"/><rect x="200.8" y="12.0" width="1" height="36.4" fill="#25858e" opacity="0.3"/><rect x="202.8" y="12.0" width="1" height="36.6" fill="#25858e" opacity="0.3"/><rect x="204.8" y="12.0" width="1" height="33.7" fill="#218e8d" opacity="0.3"/><rect x="206.8" y="12.0" width="1" height="36.6" fill="#24878e" opacity="0.3"/><rect x="207.8" y="12.0" width="1" height="34.2" fill="#218f8d" opacity="0.3"/><rect x="209.8" y="12.0" width="1" height="34.7" fill="#26828e" opacity="0.3"/><rect x="212.8" y="12.0" width="1" height="33.2" fill="#228d8d" opacity="0.3"/><rect x="219.8" y="12.0" width="1" height="36.6" fill="#21918c" opacity="0.3"/><rect x="221.8" y="12.0" width="1" height="32.6" fill="#218e8d" opacity="0.3"/><rect x="222.8" y="12.0" width="1" height="36.4" fill="#287d8e" opacity="0.3"/><rect x="223.8" y="12.0" width="1" height="32.5" fill="#228d8d" opacity="0.3"/>
<g filter="url(#bb)"><rect x="147.8" y="16.1" width="4.3" height="3.0" rx="0.8" fill="#365d8d" opacity="0.34"/><rect x="155.6" y="16.1" width="4.3" height="3.0" rx="0.8" fill="#365d8d" opacity="0.34"/><rect x="163.4" y="16.1" width="4.3" height="3.0" rx="0.8" fill="#365d8d" opacity="0.34"/><rect x="171.2" y="16.1" width="4.3" height="3.0" rx="0.8" fill="#365d8d" opacity="0.34"/><rect x="179.0" y="16.1" width="4.3" height="3.0" rx="0.8" fill="#365d8d" opacity="0.34"/><rect x="186.8" y="16.1" width="4.3" height="3.0" rx="0.8" fill="#365d8d" opacity="0.34"/><rect x="194.6" y="16.1" width="4.3" height="3.0" rx="0.8" fill="#365d8d" opacity="0.34"/><rect x="202.4" y="16.1" width="4.3" height="3.0" rx="0.8" fill="#365d8d" opacity="0.34"/><rect x="210.2" y="16.1" width="4.3" height="3.0" rx="0.8" fill="#365d8d" opacity="0.34"/><rect x="218.0" y="16.1" width="4.3" height="3.0" rx="0.8" fill="#365d8d" opacity="0.34"/><rect x="147.8" y="23.7" width="4.3" height="3.0" rx="0.8" fill="#365d8d" opacity="0.34"/><rect x="155.6" y="23.7" width="4.3" height="3.0" rx="0.8" fill="#365d8d" opacity="0.34"/><rect x="163.4" y="23.7" width="4.3" height="3.0" rx="0.8" fill="#365d8d" opacity="0.34"/><rect x="171.2" y="23.7" width="4.3" height="3.0" rx="0.8" fill="#365d8d" opacity="0.34"/><rect x="179.0" y="23.7" width="4.3" height="3.0" rx="0.8" fill="#365d8d" opacity="0.34"/><rect x="186.8" y="23.7" width="4.3" height="3.0" rx="0.8" fill="#365d8d" opacity="0.34"/><rect x="194.6" y="23.7" width="4.3" height="3.0" rx="0.8" fill="#365d8d" opacity="0.34"/><rect x="202.4" y="23.7" width="4.3" height="3.0" rx="0.8" fill="#365d8d" opacity="0.34"/><rect x="210.2" y="23.7" width="4.3" height="3.0" rx="0.8" fill="#365d8d" opacity="0.34"/><rect x="218.0" y="23.7" width="4.3" height="3.0" rx="0.8" fill="#365d8d" opacity="0.34"/><rect x="147.8" y="31.3" width="4.3" height="3.0" rx="0.8" fill="#365d8d" opacity="0.34"/><rect x="155.6" y="31.3" width="4.3" height="3.0" rx="0.8" fill="#365d8d" opacity="0.34"/><rect x="163.4" y="31.3" width="4.3" height="3.0" rx="0.8" fill="#365d8d" opacity="0.34"/><rect x="171.2" y="31.3" width="4.3" height="3.0" rx="0.8" fill="#365d8d" opacity="0.34"/><rect x="179.0" y="31.3" width="4.3" height="3.0" rx="0.8" fill="#365d8d" opacity="0.34"/><rect x="186.8" y="31.3" width="4.3" height="3.0" rx="0.8" fill="#365d8d" opacity="0.34"/><rect x="194.6" y="31.3" width="4.3" height="3.0" rx="0.8" fill="#365d8d" opacity="0.34"/><rect x="202.4" y="31.3" width="4.3" height="3.0" rx="0.8" fill="#365d8d" opacity="0.34"/><rect x="210.2" y="31.3" width="4.3" height="3.0" rx="0.8" fill="#365d8d" opacity="0.34"/><rect x="218.0" y="31.3" width="4.3" height="3.0" rx="0.8" fill="#365d8d" opacity="0.34"/><rect x="147.8" y="38.9" width="4.3" height="3.0" rx="0.8" fill="#365d8d" opacity="0.34"/><rect x="155.6" y="38.9" width="4.3" height="3.0" rx="0.8" fill="#365d8d" opacity="0.34"/><rect x="163.4" y="38.9" width="4.3" height="3.0" rx="0.8" fill="#365d8d" opacity="0.34"/><rect x="171.2" y="38.9" width="4.3" height="3.0" rx="0.8" fill="#365d8d" opacity="0.34"/><rect x="179.0" y="38.9" width="4.3" height="3.0" rx="0.8" fill="#365d8d" opacity="0.34"/><rect x="186.8" y="38.9" width="4.3" height="3.0" rx="0.8" fill="#365d8d" opacity="0.34"/><rect x="194.6" y="38.9" width="4.3" height="3.0" rx="0.8" fill="#365d8d" opacity="0.34"/><rect x="202.4" y="38.9" width="4.3" height="3.0" rx="0.8" fill="#365d8d" opacity="0.34"/><rect x="210.2" y="38.9" width="4.3" height="3.0" rx="0.8" fill="#365d8d" opacity="0.34"/><rect x="218.0" y="38.9" width="4.3" height="3.0" rx="0.8" fill="#365d8d" opacity="0.34"/><rect x="147.8" y="46.5" width="4.3" height="3.0" rx="0.8" fill="#365d8d" opacity="0.34"/><rect x="155.6" y="46.5" width="4.3" height="3.0" rx="0.8" fill="#365d8d" opacity="0.34"/><rect x="163.4" y="46.5" width="4.3" height="3.0" rx="0.8" fill="#365d8d" opacity="0.34"/><rect x="171.2" y="46.5" width="4.3" height="3.0" rx="0.8" fill="#365d8d" opacity="0.34"/><rect x="179.0" y="46.5" width="4.3" height="3.0" rx="0.8" fill="#365d8d" opacity="0.34"/><rect x="186.8" y="46.5" width="4.3" height="3.0" rx="0.8" fill="#365d8d" opacity="0.34"/><rect x="194.6" y="46.5" width="4.3" height="3.0" rx="0.8" fill="#365d8d" opacity="0.34"/><rect x="202.4" y="46.5" width="4.3" height="3.0" rx="0.8" fill="#365d8d" opacity="0.34"/><rect x="210.2" y="46.5" width="4.3" height="3.0" rx="0.8" fill="#365d8d" opacity="0.34"/><rect x="218.0" y="46.5" width="4.3" height="3.0" rx="0.8" fill="#365d8d" opacity="0.34"/><rect x="147.8" y="54.1" width="4.3" height="3.0" rx="0.8" fill="#365d8d" opacity="0.34"/><rect x="155.6" y="54.1" width="4.3" height="3.0" rx="0.8" fill="#365d8d" opacity="0.34"/><rect x="171.2" y="54.1" width="4.3" height="3.0" rx="0.8" fill="#365d8d" opacity="0.34"/><rect x="179.0" y="54.1" width="4.3" height="3.0" rx="0.8" fill="#365d8d" opacity="0.34"/><rect x="194.6" y="54.1" width="4.3" height="3.0" rx="0.8" fill="#365d8d" opacity="0.34"/><rect x="210.2" y="54.1" width="4.3" height="3.0" rx="0.8" fill="#365d8d" opacity="0.34"/><rect x="218.0" y="54.1" width="4.3" height="3.0" rx="0.8" fill="#365d8d" opacity="0.34"/><rect x="148.0" y="8.4" width="2.8" height="2.2" fill="#460b5e" opacity="0.49"/><rect x="156.6" y="8.4" width="2.8" height="2.2" fill="#460b5e" opacity="0.49"/><rect x="163.9" y="8.4" width="2.8" height="2.2" fill="#460b5e" opacity="0.49"/><rect x="171.5" y="8.4" width="2.8" height="2.2" fill="#460b5e" opacity="0.49"/><rect x="179.9" y="8.4" width="2.8" height="2.2" fill="#460b5e" opacity="0.49"/><rect x="187.1" y="8.4" width="2.8" height="2.2" fill="#460b5e" opacity="0.49"/><rect x="195.8" y="8.4" width="2.8" height="2.2" fill="#460b5e" opacity="0.49"/><rect x="202.7" y="8.4" width="2.8" height="2.2" fill="#460b5e" opacity="0.49"/><rect x="211.2" y="8.4" width="2.8" height="2.2" fill="#460b5e" opacity="0.49"/><rect x="218.6" y="8.4" width="2.8" height="2.2" fill="#460b5e" opacity="0.49"/></g>
<ellipse cx="177.3" cy="27" rx="2.2" ry="6.5" fill="#32b67a" opacity="0.85" filter="url(#sb2)"/><ellipse cx="177.3" cy="27.5" rx="1.0" ry="4" fill="#44bf70" opacity="0.5" filter="url(#sb)"/><ellipse cx="169.8" cy="55.7" rx="3.4" ry="1.4" fill="#9bd93c" opacity="0.95" filter="url(#sb)"/><ellipse cx="169.8" cy="58.3" rx="2.5" ry="0.9" fill="#2f6c8e" opacity="0.4" filter="url(#sb)"/><ellipse cx="188.3" cy="55.7" rx="3.4" ry="1.4" fill="#9bd93c" opacity="0.95" filter="url(#sb)"/><ellipse cx="188.3" cy="58.3" rx="2.5" ry="0.9" fill="#2f6c8e" opacity="0.4" filter="url(#sb)"/><ellipse cx="208.8" cy="55.7" rx="3.4" ry="1.4" fill="#9bd93c" opacity="0.95" filter="url(#sb)"/><ellipse cx="208.8" cy="58.3" rx="2.5" ry="0.9" fill="#2f6c8e" opacity="0.4" filter="url(#sb)"/>
<rect x="146.8" y="7.0" width="77.40" height="152.80" filter="url(#tx)" opacity="0.18"/>
</g>
<rect x="146.8" y="7.0" width="77.40" height="0.75" fill="#e9f2a8"/>
<rect x="146.8" y="7.0" width="1" height="152.8" fill="#44bf70" opacity="0.6"/>
<rect x="223.2" y="7.0" width="1" height="76.9" fill="#b0dd2f" opacity="0.7"/><rect x="223.2" y="83.9" width="1" height="75.9" fill="#44bf70" opacity="0.45"/>
</g>
<g clip-path="url(#cp2)"><g filter="url(#pb)">
<rect x="228.6" y="5.0" width="81.50" height="78.90" fill="url(#rg2)"/>
<rect x="228.6" y="83.9" width="81.50" height="77.90" fill="url(#ig)"/>
<g transform="translate(230.6 0)"><rect x="-1" y="89.8" width="1" height="13.6" fill="#2a788e" opacity="0.55"/><rect x="0" y="95.3" width="1" height="25.5" fill="#26828e" opacity="0.55"/><rect x="1" y="95.7" width="1" height="25.2" fill="#34608d" opacity="0.55"/><rect x="3" y="144" width="1" height="7.1" fill="#228d8d" opacity="0.45"/><rect x="4" y="144" width="1" height="9.3" fill="#21908d" opacity="0.45"/><rect x="5" y="88.6" width="1" height="13.0" fill="#287c8e" opacity="0.55"/><rect x="5" y="144" width="1" height="8.2" fill="#24868e" opacity="0.45"/><rect x="6" y="89.7" width="1" height="27.3" fill="#2c728e" opacity="0.55"/><rect x="6" y="144" width="1" height="10.6" fill="#1f958b" opacity="0.45"/><rect x="8" y="144" width="1" height="8.8" fill="#228d8d" opacity="0.45"/><rect x="9" y="91.0" width="1" height="11.2" fill="#2e6f8e" opacity="0.55"/><rect x="10" y="88.6" width="1" height="17.7" fill="#29798e" opacity="0.55"/><rect x="10" y="144" width="1" height="9.4" fill="#228b8d" opacity="0.45"/><rect x="11" y="92.4" width="1" height="29.1" fill="#24868e" opacity="0.55"/><rect x="11" y="144" width="1" height="7.3" fill="#228d8d" opacity="0.45"/><rect x="12" y="95.3" width="1" height="10.4" fill="#31688e" opacity="0.55"/><rect x="14" y="89.0" width="1" height="11.4" fill="#31668e" opacity="0.55"/><rect x="15" y="93.7" width="1" height="21.9" fill="#277f8e" opacity="0.55"/><rect x="16" y="94.5" width="1" height="13.2" fill="#277f8e" opacity="0.55"/><rect x="16" y="144" width="1" height="8.2" fill="#21908d" opacity="0.45"/><rect x="17" y="144" width="1" height="9.2" fill="#20928c" opacity="0.45"/><rect x="18" y="87.0" width="1" height="24.2" fill="#2a778e" opacity="0.55"/><rect x="19" y="90.9" width="1" height="20.5" fill="#2c738e" opacity="0.55"/><rect x="23" y="87.2" width="1" height="17.0" fill="#297b8e" opacity="0.55"/><rect x="23" y="144" width="1" height="9.8" fill="#1f978b" opacity="0.45"/><rect x="25" y="95.7" width="1" height="10.4" fill="#2a788e" opacity="0.55"/><rect x="25" y="144" width="1" height="7.7" fill="#20928c" opacity="0.45"/><rect x="27" y="89.3" width="1" height="25.3" fill="#228b8d" opacity="0.55"/><rect x="27" y="144" width="1" height="9.3" fill="#23898e" opacity="0.45"/><rect x="28" y="93.4" width="1" height="28.8" fill="#23898e" opacity="0.55"/><rect x="29" y="144" width="1" height="8.0" fill="#228c8d" opacity="0.45"/><rect x="30" y="87.6" width="1" height="16.2" fill="#32658e" opacity="0.55"/><rect x="30" y="144" width="1" height="8.0" fill="#1f948c" opacity="0.45"/><rect x="31" y="88.5" width="1" height="27.9" fill="#26828e" opacity="0.55"/><rect x="31" y="144" width="1" height="7.7" fill="#1f958b" opacity="0.45"/><rect x="32" y="89.5" width="1" height="23.7" fill="#306a8e" opacity="0.55"/><rect x="33" y="94.9" width="1" height="18.8" fill="#2a788e" opacity="0.55"/><rect x="34" y="88.5" width="1" height="22.6" fill="#26828e" opacity="0.55"/><rect x="35" y="144" width="1" height="8.9" fill="#1e9c89" opacity="0.45"/><rect x="36" y="91.9" width="1" height="28.0" fill="#277e8e" opacity="0.55"/><rect x="37" y="89.5" width="1" height="20.1" fill="#277e8e" opacity="0.55"/><rect x="38" y="144" width="1" height="7.1" fill="#1f9a8a" opacity="0.45"/><rect x="39" y="89.4" width="1" height="32.3" fill="#20928c" opacity="0.55"/><rect x="41" y="95.5" width="1" height="12.8" fill="#297b8e" opacity="0.55"/><rect x="42" y="91.4" width="1" height="33.6" fill="#2b758e" opacity="0.55"/><rect x="43" y="90.9" width="1" height="11.7" fill="#277e8e" opacity="0.55"/><rect x="44" y="91.2" width="1" height="33.3" fill="#277e8e" opacity="0.55"/><rect x="44" y="144" width="1" height="9.0" fill="#228c8d" opacity="0.45"/><rect x="45" y="91.2" width="1" height="21.4" fill="#32648e" opacity="0.55"/><rect x="46" y="144" width="1" height="8.1" fill="#1f958b" opacity="0.45"/><rect x="47" y="91.4" width="1" height="25.6" fill="#2e6d8e" opacity="0.55"/><rect x="48" y="91.8" width="1" height="23.0" fill="#26828e" opacity="0.55"/><rect x="48" y="144" width="1" height="8.4" fill="#1f998a" opacity="0.45"/><rect x="49" y="144" width="1" height="7.9" fill="#1f988b" opacity="0.45"/><rect x="50" y="90.4" width="1" height="19.7" fill="#31688e" opacity="0.55"/><rect x="51" y="144" width="1" height="8.2" fill="#23898e" opacity="0.45"/><rect x="52" y="95.4" width="1" height="19.7" fill="#287d8e" opacity="0.55"/><rect x="53" y="88.8" width="1" height="21.7" fill="#31668e" opacity="0.55"/><rect x="54" y="94.9" width="1" height="14.2" fill="#2a768e" opacity="0.55"/><rect x="55" y="91.4" width="1" height="21.9" fill="#2a768e" opacity="0.55"/><rect x="57" y="93.2" width="1" height="31.8" fill="#32648e" opacity="0.55"/><rect x="58" y="95.2" width="1" height="17.3" fill="#287d8e" opacity="0.55"/><rect x="59" y="144" width="1" height="7.9" fill="#218e8d" opacity="0.45"/><rect x="60" y="94.5" width="1" height="20.5" fill="#297a8e" opacity="0.55"/><rect x="61" y="87.6" width="1" height="17.4" fill="#2f6c8e" opacity="0.55"/><rect x="61" y="144" width="1" height="8.9" fill="#26828e" opacity="0.45"/><rect x="62" y="144" width="1" height="11.0" fill="#1f968b" opacity="0.45"/><rect x="63" y="95.2" width="1" height="32.1" fill="#23888e" opacity="0.55"/><rect x="64" y="87.4" width="1" height="21.2" fill="#25838e" opacity="0.55"/><rect x="65" y="90.2" width="1" height="12.2" fill="#2b748e" opacity="0.55"/><rect x="65" y="144" width="1" height="7.0" fill="#228d8d" opacity="0.45"/><rect x="68" y="89.7" width="1" height="14.7" fill="#23888e" opacity="0.55"/><rect x="68" y="144" width="1" height="10.6" fill="#20928c" opacity="0.45"/><rect x="69" y="144" width="1" height="10.3" fill="#1f998a" opacity="0.45"/><rect x="70" y="87.9" width="1" height="20.6" fill="#2a788e" opacity="0.55"/><rect x="71" y="90.0" width="1" height="33.2" fill="#2a778e" opacity="0.55"/><rect x="71" y="144" width="1" height="8.3" fill="#20938c" opacity="0.45"/><rect x="74" y="87.7" width="1" height="16.6" fill="#287d8e" opacity="0.55"/><rect x="74" y="144" width="1" height="7.2" fill="#228d8d" opacity="0.45"/><rect x="75" y="94.2" width="1" height="35.3" fill="#26818e" opacity="0.55"/><rect x="76" y="89.4" width="1" height="30.1" fill="#25848e" opacity="0.55"/><rect x="76" y="144" width="1" height="9.4" fill="#228d8d" opacity="0.45"/><ellipse cx="52.7" cy="94.5" rx="1.7" ry="5.5" fill="#228b8d" opacity="0.7" filter="url(#sb)"/><ellipse cx="62.2" cy="94.5" rx="1.7" ry="5.5" fill="#228b8d" opacity="0.7" filter="url(#sb)"/><ellipse cx="38" cy="94" rx="1.6" ry="5" fill="#24868e" opacity="0.7" filter="url(#sb)"/><ellipse cx="45" cy="92" rx="1.4" ry="4" fill="#25848e" opacity="0.7" filter="url(#sb)"/><ellipse cx="19" cy="122" rx="5" ry="1.5" fill="#1e9c89" opacity="0.7" filter="url(#sb)"/><ellipse cx="30" cy="123" rx="4" ry="1.3" fill="#1e9c89" opacity="0.7" filter="url(#sb)"/><ellipse cx="58" cy="124" rx="5" ry="1.2" fill="#1f978b" opacity="0.7" filter="url(#sb)"/><ellipse cx="23" cy="131.6" rx="2.6" ry="1.0" fill="#9bd93c" opacity="0.95" filter="url(#bb)"/><ellipse cx="41.5" cy="131.6" rx="2.6" ry="1.0" fill="#9bd93c" opacity="0.95" filter="url(#bb)"/><ellipse cx="61.5" cy="131.6" rx="2.6" ry="1.0" fill="#9bd93c" opacity="0.95" filter="url(#bb)"/><rect x="1.5" y="129.8" width="1.8" height="0.9" fill="#26ad81" opacity="0.45"/><rect x="5.6" y="129.3" width="1.5" height="0.9" fill="#26ad81" opacity="0.62"/><rect x="9.7" y="129.5" width="1.4" height="0.9" fill="#26ad81" opacity="0.58"/><rect x="13.8" y="129.7" width="1.5" height="0.9" fill="#26ad81" opacity="0.77"/><rect x="17.9" y="130.3" width="1.2" height="0.9" fill="#26ad81" opacity="0.59"/><rect x="26.1" y="129.5" width="1.5" height="0.9" fill="#26ad81" opacity="0.41"/><rect x="30.2" y="129.3" width="1.2" height="0.9" fill="#26ad81" opacity="0.45"/><rect x="34.3" y="130.0" width="1.3" height="0.9" fill="#26ad81" opacity="0.75"/><rect x="46.6" y="130.2" width="1.5" height="0.9" fill="#26ad81" opacity="0.68"/><rect x="50.7" y="130.3" width="1.3" height="0.9" fill="#26ad81" opacity="0.62"/><rect x="54.8" y="129.8" width="1.5" height="0.9" fill="#26ad81" opacity="0.52"/><rect x="67.1" y="129.3" width="1.8" height="0.9" fill="#26ad81" opacity="0.48"/><rect x="71.2" y="129.7" width="2.1" height="0.9" fill="#26ad81" opacity="0.54"/><rect x="75.3" y="129.6" width="2.1" height="0.9" fill="#26ad81" opacity="0.63"/><rect x="4.1" y="124.6" width="1.2" height="0.9" fill="#22a884" opacity="0.56"/><rect x="7.1" y="125.4" width="1.2" height="0.9" fill="#22a884" opacity="0.46"/><rect x="9.8" y="126.2" width="1.2" height="0.9" fill="#22a884" opacity="0.58"/><rect x="14.8" y="124.8" width="1.2" height="0.9" fill="#22a884" opacity="0.41"/><rect x="16.5" y="124.8" width="1.2" height="0.9" fill="#22a884" opacity="0.43"/><rect x="19.9" y="124.7" width="1.2" height="0.9" fill="#22a884" opacity="0.42"/><rect x="24.5" y="125.2" width="1.2" height="0.9" fill="#22a884" opacity="0.63"/><rect x="26.2" y="124.6" width="1.2" height="0.9" fill="#22a884" opacity="0.68"/><rect x="29.5" y="124.3" width="1.2" height="0.9" fill="#22a884" opacity="0.51"/><rect x="33.3" y="124.6" width="1.2" height="0.9" fill="#22a884" opacity="0.54"/><rect x="37.2" y="124.6" width="1.2" height="0.9" fill="#22a884" opacity="0.52"/><rect x="40.2" y="126.1" width="1.2" height="0.9" fill="#22a884" opacity="0.33"/><rect x="43.1" y="125.5" width="1.2" height="0.9" fill="#22a884" opacity="0.31"/><rect x="47.6" y="126.4" width="1.2" height="0.9" fill="#22a884" opacity="0.43"/><rect x="50.7" y="124.7" width="1.2" height="0.9" fill="#22a884" opacity="0.68"/><rect x="52.9" y="124.1" width="1.2" height="0.9" fill="#22a884" opacity="0.33"/><rect x="56.7" y="124.2" width="1.2" height="0.9" fill="#22a884" opacity="0.69"/><rect x="60.4" y="125.5" width="1.2" height="0.9" fill="#22a884" opacity="0.55"/><rect x="63.2" y="126.2" width="1.2" height="0.9" fill="#22a884" opacity="0.59"/><rect x="66.6" y="124.8" width="1.2" height="0.9" fill="#22a884" opacity="0.36"/><rect x="69.6" y="124.9" width="1.2" height="0.9" fill="#22a884" opacity="0.33"/><rect x="74.1" y="124.7" width="1.2" height="0.9" fill="#22a884" opacity="0.52"/><rect x="30.9" y="87" width="0.9" height="24" fill="#32b67a" opacity="0.55"/><rect x="30.6" y="92" width="1.4" height="12" fill="#4ec36b" opacity="0.35"/></g>
<rect x="231.6" y="12.0" width="1" height="33.8" fill="#26828e" opacity="0.3"/><rect x="232.6" y="12.0" width="1" height="35.3" fill="#23888e" opacity="0.3"/><rect x="235.6" y="12.0" width="1" height="36.3" fill="#25858e" opacity="0.3"/><rect x="240.6" y="12.0" width="1" height="33.0" fill="#25858e" opacity="0.3"/><rect x="243.6" y="12.0" width="1" height="33.6" fill="#25848e" opacity="0.3"/><rect x="244.6" y="12.0" width="1" height="36.2" fill="#218e8d" opacity="0.3"/><rect x="245.6" y="12.0" width="1" height="32.0" fill="#26818e" opacity="0.3"/><rect x="246.6" y="12.0" width="1" height="34.2" fill="#1f9a8a" opacity="0.3"/><rect x="247.6" y="12.0" width="1" height="33.3" fill="#238a8d" opacity="0.3"/><rect x="248.6" y="12.0" width="1" height="34.3" fill="#26828e" opacity="0.3"/><rect x="250.6" y="12.0" width="1" height="33.0" fill="#20928c" opacity="0.3"/><rect x="251.6" y="12.0" width="1" height="34.7" fill="#238a8d" opacity="0.3"/><rect x="252.6" y="12.0" width="1" height="37.3" fill="#21908d" opacity="0.3"/><rect x="256.6" y="12.0" width="1" height="32.4" fill="#2b758e" opacity="0.3"/><rect x="258.6" y="12.0" width="1" height="33.4" fill="#25848e" opacity="0.3"/><rect x="259.6" y="12.0" width="1" height="37.6" fill="#277f8e" opacity="0.3"/><rect x="260.6" y="12.0" width="1" height="32.7" fill="#228d8d" opacity="0.3"/><rect x="263.6" y="12.0" width="1" height="33.0" fill="#277f8e" opacity="0.3"/><rect x="265.6" y="12.0" width="1" height="36.6" fill="#1f968b" opacity="0.3"/><rect x="268.6" y="12.0" width="1" height="35.1" fill="#25838e" opacity="0.3"/><rect x="271.6" y="12.0" width="1" height="36.7" fill="#20928c" opacity="0.3"/><rect x="278.6" y="12.0" width="1" height="33.0" fill="#25838e" opacity="0.3"/><rect x="283.6" y="12.0" width="1" height="33.2" fill="#287d8e" opacity="0.3"/><rect x="287.6" y="12.0" width="1" height="37.1" fill="#228c8d" opacity="0.3"/><rect x="290.6" y="12.0" width="1" height="35.5" fill="#24878e" opacity="0.3"/><rect x="292.6" y="12.0" width="1" height="32.4" fill="#228d8d" opacity="0.3"/><rect x="293.6" y="12.0" width="1" height="36.9" fill="#218f8d" opacity="0.3"/><rect x="296.6" y="12.0" width="1" height="36.6" fill="#23888e" opacity="0.3"/><rect x="298.6" y="12.0" width="1" height="38.0" fill="#24868e" opacity="0.3"/><rect x="299.6" y="12.0" width="1" height="32.6" fill="#21908d" opacity="0.3"/><rect x="300.6" y="12.0" width="1" height="37.8" fill="#20928c" opacity="0.3"/><rect x="301.6" y="12.0" width="1" height="35.7" fill="#277e8e" opacity="0.3"/><rect x="302.6" y="12.0" width="1" height="35.8" fill="#25838e" opacity="0.3"/><rect x="303.6" y="12.0" width="1" height="36.3" fill="#21908d" opacity="0.3"/><rect x="307.6" y="12.0" width="1" height="32.2" fill="#218e8d" opacity="0.3"/>
<g filter="url(#bb)"><rect x="231.6" y="16.1" width="4.3" height="3.0" rx="0.8" fill="#365d8d" opacity="0.20"/><rect x="239.4" y="16.1" width="4.3" height="3.0" rx="0.8" fill="#365d8d" opacity="0.20"/><rect x="247.2" y="16.1" width="4.3" height="3.0" rx="0.8" fill="#365d8d" opacity="0.20"/><rect x="255.0" y="16.1" width="4.3" height="3.0" rx="0.8" fill="#365d8d" opacity="0.20"/><rect x="262.8" y="16.1" width="4.3" height="3.0" rx="0.8" fill="#365d8d" opacity="0.20"/><rect x="270.6" y="16.1" width="4.3" height="3.0" rx="0.8" fill="#365d8d" opacity="0.20"/><rect x="278.4" y="16.1" width="4.3" height="3.0" rx="0.8" fill="#365d8d" opacity="0.20"/><rect x="286.2" y="16.1" width="4.3" height="3.0" rx="0.8" fill="#365d8d" opacity="0.20"/><rect x="294.0" y="16.1" width="4.3" height="3.0" rx="0.8" fill="#365d8d" opacity="0.20"/><rect x="301.8" y="16.1" width="4.3" height="3.0" rx="0.8" fill="#365d8d" opacity="0.20"/><rect x="231.6" y="23.7" width="4.3" height="3.0" rx="0.8" fill="#365d8d" opacity="0.20"/><rect x="239.4" y="23.7" width="4.3" height="3.0" rx="0.8" fill="#365d8d" opacity="0.20"/><rect x="247.2" y="23.7" width="4.3" height="3.0" rx="0.8" fill="#365d8d" opacity="0.20"/><rect x="255.0" y="23.7" width="4.3" height="3.0" rx="0.8" fill="#365d8d" opacity="0.20"/><rect x="262.8" y="23.7" width="4.3" height="3.0" rx="0.8" fill="#365d8d" opacity="0.20"/><rect x="270.6" y="23.7" width="4.3" height="3.0" rx="0.8" fill="#365d8d" opacity="0.20"/><rect x="278.4" y="23.7" width="4.3" height="3.0" rx="0.8" fill="#365d8d" opacity="0.20"/><rect x="286.2" y="23.7" width="4.3" height="3.0" rx="0.8" fill="#365d8d" opacity="0.20"/><rect x="294.0" y="23.7" width="4.3" height="3.0" rx="0.8" fill="#365d8d" opacity="0.20"/><rect x="301.8" y="23.7" width="4.3" height="3.0" rx="0.8" fill="#365d8d" opacity="0.20"/><rect x="231.6" y="31.3" width="4.3" height="3.0" rx="0.8" fill="#365d8d" opacity="0.20"/><rect x="239.4" y="31.3" width="4.3" height="3.0" rx="0.8" fill="#365d8d" opacity="0.20"/><rect x="247.2" y="31.3" width="4.3" height="3.0" rx="0.8" fill="#365d8d" opacity="0.20"/><rect x="255.0" y="31.3" width="4.3" height="3.0" rx="0.8" fill="#365d8d" opacity="0.20"/><rect x="262.8" y="31.3" width="4.3" height="3.0" rx="0.8" fill="#365d8d" opacity="0.20"/><rect x="270.6" y="31.3" width="4.3" height="3.0" rx="0.8" fill="#365d8d" opacity="0.20"/><rect x="278.4" y="31.3" width="4.3" height="3.0" rx="0.8" fill="#365d8d" opacity="0.20"/><rect x="286.2" y="31.3" width="4.3" height="3.0" rx="0.8" fill="#365d8d" opacity="0.20"/><rect x="294.0" y="31.3" width="4.3" height="3.0" rx="0.8" fill="#365d8d" opacity="0.20"/><rect x="301.8" y="31.3" width="4.3" height="3.0" rx="0.8" fill="#365d8d" opacity="0.20"/><rect x="231.6" y="38.9" width="4.3" height="3.0" rx="0.8" fill="#365d8d" opacity="0.20"/><rect x="239.4" y="38.9" width="4.3" height="3.0" rx="0.8" fill="#365d8d" opacity="0.20"/><rect x="247.2" y="38.9" width="4.3" height="3.0" rx="0.8" fill="#365d8d" opacity="0.20"/><rect x="255.0" y="38.9" width="4.3" height="3.0" rx="0.8" fill="#365d8d" opacity="0.20"/><rect x="262.8" y="38.9" width="4.3" height="3.0" rx="0.8" fill="#365d8d" opacity="0.20"/><rect x="270.6" y="38.9" width="4.3" height="3.0" rx="0.8" fill="#365d8d" opacity="0.20"/><rect x="278.4" y="38.9" width="4.3" height="3.0" rx="0.8" fill="#365d8d" opacity="0.20"/><rect x="286.2" y="38.9" width="4.3" height="3.0" rx="0.8" fill="#365d8d" opacity="0.20"/><rect x="294.0" y="38.9" width="4.3" height="3.0" rx="0.8" fill="#365d8d" opacity="0.20"/><rect x="301.8" y="38.9" width="4.3" height="3.0" rx="0.8" fill="#365d8d" opacity="0.20"/><rect x="231.6" y="46.5" width="4.3" height="3.0" rx="0.8" fill="#365d8d" opacity="0.20"/><rect x="239.4" y="46.5" width="4.3" height="3.0" rx="0.8" fill="#365d8d" opacity="0.20"/><rect x="247.2" y="46.5" width="4.3" height="3.0" rx="0.8" fill="#365d8d" opacity="0.20"/><rect x="255.0" y="46.5" width="4.3" height="3.0" rx="0.8" fill="#365d8d" opacity="0.20"/><rect x="262.8" y="46.5" width="4.3" height="3.0" rx="0.8" fill="#365d8d" opacity="0.20"/><rect x="270.6" y="46.5" width="4.3" height="3.0" rx="0.8" fill="#365d8d" opacity="0.20"/><rect x="278.4" y="46.5" width="4.3" height="3.0" rx="0.8" fill="#365d8d" opacity="0.20"/><rect x="286.2" y="46.5" width="4.3" height="3.0" rx="0.8" fill="#365d8d" opacity="0.20"/><rect x="294.0" y="46.5" width="4.3" height="3.0" rx="0.8" fill="#365d8d" opacity="0.20"/><rect x="301.8" y="46.5" width="4.3" height="3.0" rx="0.8" fill="#365d8d" opacity="0.20"/><rect x="231.6" y="54.1" width="4.3" height="3.0" rx="0.8" fill="#365d8d" opacity="0.20"/><rect x="239.4" y="54.1" width="4.3" height="3.0" rx="0.8" fill="#365d8d" opacity="0.20"/><rect x="255.0" y="54.1" width="4.3" height="3.0" rx="0.8" fill="#365d8d" opacity="0.20"/><rect x="262.8" y="54.1" width="4.3" height="3.0" rx="0.8" fill="#365d8d" opacity="0.20"/><rect x="278.4" y="54.1" width="4.3" height="3.0" rx="0.8" fill="#365d8d" opacity="0.20"/><rect x="294.0" y="54.1" width="4.3" height="3.0" rx="0.8" fill="#365d8d" opacity="0.20"/><rect x="301.8" y="54.1" width="4.3" height="3.0" rx="0.8" fill="#365d8d" opacity="0.20"/><rect x="232.3" y="8.4" width="2.8" height="2.2" fill="#460b5e" opacity="0.39"/><rect x="239.9" y="8.4" width="2.8" height="2.2" fill="#460b5e" opacity="0.39"/><rect x="248.2" y="8.4" width="2.8" height="2.2" fill="#460b5e" opacity="0.39"/><rect x="256.2" y="8.4" width="2.8" height="2.2" fill="#460b5e" opacity="0.39"/><rect x="262.9" y="8.4" width="2.8" height="2.2" fill="#460b5e" opacity="0.39"/><rect x="271.1" y="8.4" width="2.8" height="2.2" fill="#460b5e" opacity="0.39"/><rect x="278.9" y="8.4" width="2.8" height="2.2" fill="#460b5e" opacity="0.39"/><rect x="286.9" y="8.4" width="2.8" height="2.2" fill="#460b5e" opacity="0.39"/><rect x="295.1" y="8.4" width="2.8" height="2.2" fill="#460b5e" opacity="0.39"/><rect x="302.5" y="8.4" width="2.8" height="2.2" fill="#460b5e" opacity="0.39"/></g>
<ellipse cx="261.8" cy="28.3" rx="1.9" ry="7" fill="#26ad81" opacity="0.7" filter="url(#sb2)"/><rect x="261.2" y="22" width="1.3" height="12.5" fill="#4ec36b" opacity="0.7" filter="url(#sb)"/><ellipse cx="261.9" cy="29" rx="0.9" ry="4" fill="#63cb5f" opacity="0.5"/><ellipse cx="253.6" cy="55.7" rx="3.4" ry="1.4" fill="#9bd93c" opacity="0.95" filter="url(#sb)"/><ellipse cx="253.6" cy="58.3" rx="2.5" ry="0.9" fill="#2f6c8e" opacity="0.4" filter="url(#sb)"/><ellipse cx="272.1" cy="55.7" rx="3.4" ry="1.4" fill="#9bd93c" opacity="0.95" filter="url(#sb)"/><ellipse cx="272.1" cy="58.3" rx="2.5" ry="0.9" fill="#2f6c8e" opacity="0.4" filter="url(#sb)"/><ellipse cx="292.6" cy="55.7" rx="3.4" ry="1.4" fill="#9bd93c" opacity="0.95" filter="url(#sb)"/><ellipse cx="292.6" cy="58.3" rx="2.5" ry="0.9" fill="#2f6c8e" opacity="0.4" filter="url(#sb)"/>
<rect x="230.6" y="7.0" width="77.50" height="152.80" filter="url(#tx)" opacity="0.18"/>
</g>
<rect x="230.6" y="7.0" width="77.50" height="0.75" fill="#e9f2a8"/>
<rect x="230.6" y="7.0" width="1" height="152.8" fill="#44bf70" opacity="0.6"/>
<rect x="307.1" y="7.0" width="1" height="76.9" fill="#b0dd2f" opacity="0.7"/><rect x="307.1" y="83.9" width="1" height="75.9" fill="#44bf70" opacity="0.45"/>
</g>
<g clip-path="url(#cp3)"><g filter="url(#pb)">
<rect x="359.5" y="5.0" width="81.70" height="78.90" fill="url(#rg3)"/>
<rect x="359.5" y="83.9" width="81.70" height="77.90" fill="url(#ig)"/>
<g transform="translate(361.5 0)"><rect x="-1" y="89.8" width="1" height="13.6" fill="#2a788e" opacity="0.55"/><rect x="0" y="95.3" width="1" height="25.5" fill="#26828e" opacity="0.55"/><rect x="1" y="95.7" width="1" height="25.2" fill="#34608d" opacity="0.55"/><rect x="3" y="144" width="1" height="7.1" fill="#228d8d" opacity="0.45"/><rect x="4" y="144" width="1" height="9.3" fill="#21908d" opacity="0.45"/><rect x="5" y="88.6" width="1" height="13.0" fill="#287c8e" opacity="0.55"/><rect x="5" y="144" width="1" height="8.2" fill="#24868e" opacity="0.45"/><rect x="6" y="89.7" width="1" height="27.3" fill="#2c728e" opacity="0.55"/><rect x="6" y="144" width="1" height="10.6" fill="#1f958b" opacity="0.45"/><rect x="8" y="144" width="1" height="8.8" fill="#228d8d" opacity="0.45"/><rect x="9" y="91.0" width="1" height="11.2" fill="#2e6f8e" opacity="0.55"/><rect x="10" y="88.6" width="1" height="17.7" fill="#29798e" opacity="0.55"/><rect x="10" y="144" width="1" height="9.4" fill="#228b8d" opacity="0.45"/><rect x="11" y="92.4" width="1" height="29.1" fill="#24868e" opacity="0.55"/><rect x="11" y="144" width="1" height="7.3" fill="#228d8d" opacity="0.45"/><rect x="12" y="95.3" width="1" height="10.4" fill="#31688e" opacity="0.55"/><rect x="14" y="89.0" width="1" height="11.4" fill="#31668e" opacity="0.55"/><rect x="15" y="93.7" width="1" height="21.9" fill="#277f8e" opacity="0.55"/><rect x="16" y="94.5" width="1" height="13.2" fill="#277f8e" opacity="0.55"/><rect x="16" y="144" width="1" height="8.2" fill="#21908d" opacity="0.45"/><rect x="17" y="144" width="1" height="9.2" fill="#20928c" opacity="0.45"/><rect x="18" y="87.0" width="1" height="24.2" fill="#2a778e" opacity="0.55"/><rect x="19" y="90.9" width="1" height="20.5" fill="#2c738e" opacity="0.55"/><rect x="23" y="87.2" width="1" height="17.0" fill="#297b8e" opacity="0.55"/><rect x="23" y="144" width="1" height="9.8" fill="#1f978b" opacity="0.45"/><rect x="25" y="95.7" width="1" height="10.4" fill="#2a788e" opacity="0.55"/><rect x="25" y="144" width="1" height="7.7" fill="#20928c" opacity="0.45"/><rect x="27" y="89.3" width="1" height="25.3" fill="#228b8d" opacity="0.55"/><rect x="27" y="144" width="1" height="9.3" fill="#23898e" opacity="0.45"/><rect x="28" y="93.4" width="1" height="28.8" fill="#23898e" opacity="0.55"/><rect x="29" y="144" width="1" height="8.0" fill="#228c8d" opacity="0.45"/><rect x="30" y="87.6" width="1" height="16.2" fill="#32658e" opacity="0.55"/><rect x="30" y="144" width="1" height="8.0" fill="#1f948c" opacity="0.45"/><rect x="31" y="88.5" width="1" height="27.9" fill="#26828e" opacity="0.55"/><rect x="31" y="144" width="1" height="7.7" fill="#1f958b" opacity="0.45"/><rect x="32" y="89.5" width="1" height="23.7" fill="#306a8e" opacity="0.55"/><rect x="33" y="94.9" width="1" height="18.8" fill="#2a788e" opacity="0.55"/><rect x="34" y="88.5" width="1" height="22.6" fill="#26828e" opacity="0.55"/><rect x="35" y="144" width="1" height="8.9" fill="#1e9c89" opacity="0.45"/><rect x="36" y="91.9" width="1" height="28.0" fill="#277e8e" opacity="0.55"/><rect x="37" y="89.5" width="1" height="20.1" fill="#277e8e" opacity="0.55"/><rect x="38" y="144" width="1" height="7.1" fill="#1f9a8a" opacity="0.45"/><rect x="39" y="89.4" width="1" height="32.3" fill="#20928c" opacity="0.55"/><rect x="41" y="95.5" width="1" height="12.8" fill="#297b8e" opacity="0.55"/><rect x="42" y="91.4" width="1" height="33.6" fill="#2b758e" opacity="0.55"/><rect x="43" y="90.9" width="1" height="11.7" fill="#277e8e" opacity="0.55"/><rect x="44" y="91.2" width="1" height="33.3" fill="#277e8e" opacity="0.55"/><rect x="44" y="144" width="1" height="9.0" fill="#228c8d" opacity="0.45"/><rect x="45" y="91.2" width="1" height="21.4" fill="#32648e" opacity="0.55"/><rect x="46" y="144" width="1" height="8.1" fill="#1f958b" opacity="0.45"/><rect x="47" y="91.4" width="1" height="25.6" fill="#2e6d8e" opacity="0.55"/><rect x="48" y="91.8" width="1" height="23.0" fill="#26828e" opacity="0.55"/><rect x="48" y="144" width="1" height="8.4" fill="#1f998a" opacity="0.45"/><rect x="49" y="144" width="1" height="7.9" fill="#1f988b" opacity="0.45"/><rect x="50" y="90.4" width="1" height="19.7" fill="#31688e" opacity="0.55"/><rect x="51" y="144" width="1" height="8.2" fill="#23898e" opacity="0.45"/><rect x="52" y="95.4" width="1" height="19.7" fill="#287d8e" opacity="0.55"/><rect x="53" y="88.8" width="1" height="21.7" fill="#31668e" opacity="0.55"/><rect x="54" y="94.9" width="1" height="14.2" fill="#2a768e" opacity="0.55"/><rect x="55" y="91.4" width="1" height="21.9" fill="#2a768e" opacity="0.55"/><rect x="57" y="93.2" width="1" height="31.8" fill="#32648e" opacity="0.55"/><rect x="58" y="95.2" width="1" height="17.3" fill="#287d8e" opacity="0.55"/><rect x="59" y="144" width="1" height="7.9" fill="#218e8d" opacity="0.45"/><rect x="60" y="94.5" width="1" height="20.5" fill="#297a8e" opacity="0.55"/><rect x="61" y="87.6" width="1" height="17.4" fill="#2f6c8e" opacity="0.55"/><rect x="61" y="144" width="1" height="8.9" fill="#26828e" opacity="0.45"/><rect x="62" y="144" width="1" height="11.0" fill="#1f968b" opacity="0.45"/><rect x="63" y="95.2" width="1" height="32.1" fill="#23888e" opacity="0.55"/><rect x="64" y="87.4" width="1" height="21.2" fill="#25838e" opacity="0.55"/><rect x="65" y="90.2" width="1" height="12.2" fill="#2b748e" opacity="0.55"/><rect x="65" y="144" width="1" height="7.0" fill="#228d8d" opacity="0.45"/><rect x="68" y="89.7" width="1" height="14.7" fill="#23888e" opacity="0.55"/><rect x="68" y="144" width="1" height="10.6" fill="#20928c" opacity="0.45"/><rect x="69" y="144" width="1" height="10.3" fill="#1f998a" opacity="0.45"/><rect x="70" y="87.9" width="1" height="20.6" fill="#2a788e" opacity="0.55"/><rect x="71" y="90.0" width="1" height="33.2" fill="#2a778e" opacity="0.55"/><rect x="71" y="144" width="1" height="8.3" fill="#20938c" opacity="0.45"/><rect x="74" y="87.7" width="1" height="16.6" fill="#287d8e" opacity="0.55"/><rect x="74" y="144" width="1" height="7.2" fill="#228d8d" opacity="0.45"/><rect x="75" y="94.2" width="1" height="35.3" fill="#26818e" opacity="0.55"/><rect x="76" y="89.4" width="1" height="30.1" fill="#25848e" opacity="0.55"/><rect x="76" y="144" width="1" height="9.4" fill="#228d8d" opacity="0.45"/><ellipse cx="52.7" cy="94.5" rx="1.7" ry="5.5" fill="#228b8d" opacity="0.7" filter="url(#sb)"/><ellipse cx="62.2" cy="94.5" rx="1.7" ry="5.5" fill="#228b8d" opacity="0.7" filter="url(#sb)"/><ellipse cx="38" cy="94" rx="1.6" ry="5" fill="#24868e" opacity="0.7" filter="url(#sb)"/><ellipse cx="45" cy="92" rx="1.4" ry="4" fill="#25848e" opacity="0.7" filter="url(#sb)"/><ellipse cx="19" cy="122" rx="5" ry="1.5" fill="#1e9c89" opacity="0.7" filter="url(#sb)"/><ellipse cx="30" cy="123" rx="4" ry="1.3" fill="#1e9c89" opacity="0.7" filter="url(#sb)"/><ellipse cx="58" cy="124" rx="5" ry="1.2" fill="#1f978b" opacity="0.7" filter="url(#sb)"/><ellipse cx="23" cy="131.6" rx="2.6" ry="1.0" fill="#9bd93c" opacity="0.95" filter="url(#bb)"/><ellipse cx="41.5" cy="131.6" rx="2.6" ry="1.0" fill="#9bd93c" opacity="0.95" filter="url(#bb)"/><ellipse cx="61.5" cy="131.6" rx="2.6" ry="1.0" fill="#9bd93c" opacity="0.95" filter="url(#bb)"/><rect x="1.5" y="129.8" width="1.8" height="0.9" fill="#26ad81" opacity="0.45"/><rect x="5.6" y="129.3" width="1.5" height="0.9" fill="#26ad81" opacity="0.62"/><rect x="9.7" y="129.5" width="1.4" height="0.9" fill="#26ad81" opacity="0.58"/><rect x="13.8" y="129.7" width="1.5" height="0.9" fill="#26ad81" opacity="0.77"/><rect x="17.9" y="130.3" width="1.2" height="0.9" fill="#26ad81" opacity="0.59"/><rect x="26.1" y="129.5" width="1.5" height="0.9" fill="#26ad81" opacity="0.41"/><rect x="30.2" y="129.3" width="1.2" height="0.9" fill="#26ad81" opacity="0.45"/><rect x="34.3" y="130.0" width="1.3" height="0.9" fill="#26ad81" opacity="0.75"/><rect x="46.6" y="130.2" width="1.5" height="0.9" fill="#26ad81" opacity="0.68"/><rect x="50.7" y="130.3" width="1.3" height="0.9" fill="#26ad81" opacity="0.62"/><rect x="54.8" y="129.8" width="1.5" height="0.9" fill="#26ad81" opacity="0.52"/><rect x="67.1" y="129.3" width="1.8" height="0.9" fill="#26ad81" opacity="0.48"/><rect x="71.2" y="129.7" width="2.1" height="0.9" fill="#26ad81" opacity="0.54"/><rect x="75.3" y="129.6" width="2.1" height="0.9" fill="#26ad81" opacity="0.63"/><rect x="4.1" y="124.6" width="1.2" height="0.9" fill="#22a884" opacity="0.56"/><rect x="7.1" y="125.4" width="1.2" height="0.9" fill="#22a884" opacity="0.46"/><rect x="9.8" y="126.2" width="1.2" height="0.9" fill="#22a884" opacity="0.58"/><rect x="14.8" y="124.8" width="1.2" height="0.9" fill="#22a884" opacity="0.41"/><rect x="16.5" y="124.8" width="1.2" height="0.9" fill="#22a884" opacity="0.43"/><rect x="19.9" y="124.7" width="1.2" height="0.9" fill="#22a884" opacity="0.42"/><rect x="24.5" y="125.2" width="1.2" height="0.9" fill="#22a884" opacity="0.63"/><rect x="26.2" y="124.6" width="1.2" height="0.9" fill="#22a884" opacity="0.68"/><rect x="29.5" y="124.3" width="1.2" height="0.9" fill="#22a884" opacity="0.51"/><rect x="33.3" y="124.6" width="1.2" height="0.9" fill="#22a884" opacity="0.54"/><rect x="37.2" y="124.6" width="1.2" height="0.9" fill="#22a884" opacity="0.52"/><rect x="40.2" y="126.1" width="1.2" height="0.9" fill="#22a884" opacity="0.33"/><rect x="43.1" y="125.5" width="1.2" height="0.9" fill="#22a884" opacity="0.31"/><rect x="47.6" y="126.4" width="1.2" height="0.9" fill="#22a884" opacity="0.43"/><rect x="50.7" y="124.7" width="1.2" height="0.9" fill="#22a884" opacity="0.68"/><rect x="52.9" y="124.1" width="1.2" height="0.9" fill="#22a884" opacity="0.33"/><rect x="56.7" y="124.2" width="1.2" height="0.9" fill="#22a884" opacity="0.69"/><rect x="60.4" y="125.5" width="1.2" height="0.9" fill="#22a884" opacity="0.55"/><rect x="63.2" y="126.2" width="1.2" height="0.9" fill="#22a884" opacity="0.59"/><rect x="66.6" y="124.8" width="1.2" height="0.9" fill="#22a884" opacity="0.36"/><rect x="69.6" y="124.9" width="1.2" height="0.9" fill="#22a884" opacity="0.33"/><rect x="74.1" y="124.7" width="1.2" height="0.9" fill="#22a884" opacity="0.52"/><rect x="30.9" y="87" width="0.9" height="24" fill="#32b67a" opacity="0.55"/><rect x="30.6" y="92" width="1.4" height="12" fill="#4ec36b" opacity="0.35"/></g>
<rect x="361.5" y="12.6" width="1" height="22.0" fill="#23888e" opacity="0.55"/><rect x="362.5" y="13.8" width="1" height="23.6" fill="#287d8e" opacity="0.55"/><rect x="366.5" y="15.0" width="1" height="24.4" fill="#25858e" opacity="0.55"/><rect x="367.5" y="17.4" width="1" height="26.9" fill="#20938c" opacity="0.55"/><rect x="375.5" y="13.3" width="1" height="21.6" fill="#25858e" opacity="0.55"/><rect x="380.5" y="17.1" width="1" height="25.6" fill="#20928c" opacity="0.55"/><rect x="381.5" y="11.0" width="1" height="21.1" fill="#25838e" opacity="0.55"/><rect x="383.5" y="13.9" width="1" height="29.6" fill="#27808e" opacity="0.55"/><rect x="385.5" y="16.9" width="1" height="17.0" fill="#25838e" opacity="0.55"/><rect x="387.5" y="12.7" width="1" height="17.3" fill="#2d718e" opacity="0.55"/><rect x="389.5" y="13.9" width="1" height="24.4" fill="#277e8e" opacity="0.55"/><rect x="393.5" y="11.4" width="1" height="27.7" fill="#27808e" opacity="0.55"/><rect x="395.5" y="14.2" width="1" height="20.7" fill="#20938c" opacity="0.55"/><rect x="396.5" y="14.1" width="1" height="27.6" fill="#26828e" opacity="0.55"/><rect x="397.5" y="13.0" width="1" height="21.7" fill="#218e8d" opacity="0.55"/><rect x="401.5" y="10.9" width="1" height="12.2" fill="#228c8d" opacity="0.55"/><rect x="402.5" y="16.2" width="1" height="22.1" fill="#238a8d" opacity="0.55"/><rect x="403.5" y="17.5" width="1" height="23.5" fill="#228b8d" opacity="0.55"/><rect x="406.5" y="10.4" width="1" height="26.8" fill="#27808e" opacity="0.55"/><rect x="407.5" y="14.1" width="1" height="14.0" fill="#21908d" opacity="0.55"/><rect x="408.5" y="10.7" width="1" height="22.9" fill="#228d8d" opacity="0.55"/><rect x="410.5" y="13.3" width="1" height="12.5" fill="#26818e" opacity="0.55"/><rect x="412.5" y="12.3" width="1" height="16.6" fill="#24868e" opacity="0.55"/><rect x="413.5" y="11.3" width="1" height="15.8" fill="#2b758e" opacity="0.55"/><rect x="415.5" y="11.4" width="1" height="17.3" fill="#26818e" opacity="0.55"/><rect x="416.5" y="17.0" width="1" height="27.0" fill="#29798e" opacity="0.55"/><rect x="422.5" y="14.2" width="1" height="25.3" fill="#20928c" opacity="0.55"/><rect x="424.5" y="10.3" width="1" height="19.7" fill="#20928c" opacity="0.55"/><rect x="427.5" y="12.8" width="1" height="12.7" fill="#277e8e" opacity="0.55"/><rect x="428.5" y="10.7" width="1" height="27.3" fill="#24868e" opacity="0.55"/><rect x="429.5" y="12.6" width="1" height="13.2" fill="#228d8d" opacity="0.55"/><rect x="433.5" y="12.7" width="1" height="17.2" fill="#23898e" opacity="0.55"/><rect x="435.5" y="17.4" width="1" height="18.4" fill="#25848e" opacity="0.55"/><rect x="437.5" y="13.8" width="1" height="15.1" fill="#23888e" opacity="0.55"/><rect x="438.5" y="13.2" width="1" height="16.7" fill="#25858e" opacity="0.55"/>
<g filter="url(#bb)"><rect x="362.5" y="16.1" width="4.3" height="3.0" rx="0.8" fill="#365d8d" opacity="0.10"/><rect x="370.3" y="16.1" width="4.3" height="3.0" rx="0.8" fill="#365d8d" opacity="0.10"/><rect x="378.1" y="16.1" width="4.3" height="3.0" rx="0.8" fill="#365d8d" opacity="0.10"/><rect x="385.9" y="16.1" width="4.3" height="3.0" rx="0.8" fill="#365d8d" opacity="0.10"/><rect x="393.7" y="16.1" width="4.3" height="3.0" rx="0.8" fill="#365d8d" opacity="0.10"/><rect x="401.5" y="16.1" width="4.3" height="3.0" rx="0.8" fill="#365d8d" opacity="0.10"/><rect x="409.3" y="16.1" width="4.3" height="3.0" rx="0.8" fill="#365d8d" opacity="0.10"/><rect x="417.1" y="16.1" width="4.3" height="3.0" rx="0.8" fill="#365d8d" opacity="0.10"/><rect x="424.9" y="16.1" width="4.3" height="3.0" rx="0.8" fill="#365d8d" opacity="0.10"/><rect x="432.7" y="16.1" width="4.3" height="3.0" rx="0.8" fill="#365d8d" opacity="0.10"/><rect x="362.5" y="23.7" width="4.3" height="3.0" rx="0.8" fill="#365d8d" opacity="0.10"/><rect x="370.3" y="23.7" width="4.3" height="3.0" rx="0.8" fill="#365d8d" opacity="0.10"/><rect x="378.1" y="23.7" width="4.3" height="3.0" rx="0.8" fill="#365d8d" opacity="0.10"/><rect x="385.9" y="23.7" width="4.3" height="3.0" rx="0.8" fill="#365d8d" opacity="0.10"/><rect x="393.7" y="23.7" width="4.3" height="3.0" rx="0.8" fill="#365d8d" opacity="0.10"/><rect x="401.5" y="23.7" width="4.3" height="3.0" rx="0.8" fill="#365d8d" opacity="0.10"/><rect x="409.3" y="23.7" width="4.3" height="3.0" rx="0.8" fill="#365d8d" opacity="0.10"/><rect x="417.1" y="23.7" width="4.3" height="3.0" rx="0.8" fill="#365d8d" opacity="0.10"/><rect x="424.9" y="23.7" width="4.3" height="3.0" rx="0.8" fill="#365d8d" opacity="0.10"/><rect x="432.7" y="23.7" width="4.3" height="3.0" rx="0.8" fill="#365d8d" opacity="0.10"/><rect x="362.5" y="31.3" width="4.3" height="3.0" rx="0.8" fill="#365d8d" opacity="0.10"/><rect x="370.3" y="31.3" width="4.3" height="3.0" rx="0.8" fill="#365d8d" opacity="0.10"/><rect x="378.1" y="31.3" width="4.3" height="3.0" rx="0.8" fill="#365d8d" opacity="0.10"/><rect x="385.9" y="31.3" width="4.3" height="3.0" rx="0.8" fill="#365d8d" opacity="0.10"/><rect x="393.7" y="31.3" width="4.3" height="3.0" rx="0.8" fill="#365d8d" opacity="0.10"/><rect x="401.5" y="31.3" width="4.3" height="3.0" rx="0.8" fill="#365d8d" opacity="0.10"/><rect x="409.3" y="31.3" width="4.3" height="3.0" rx="0.8" fill="#365d8d" opacity="0.10"/><rect x="417.1" y="31.3" width="4.3" height="3.0" rx="0.8" fill="#365d8d" opacity="0.10"/><rect x="424.9" y="31.3" width="4.3" height="3.0" rx="0.8" fill="#365d8d" opacity="0.10"/><rect x="432.7" y="31.3" width="4.3" height="3.0" rx="0.8" fill="#365d8d" opacity="0.10"/><rect x="362.5" y="38.9" width="4.3" height="3.0" rx="0.8" fill="#365d8d" opacity="0.10"/><rect x="370.3" y="38.9" width="4.3" height="3.0" rx="0.8" fill="#365d8d" opacity="0.10"/><rect x="378.1" y="38.9" width="4.3" height="3.0" rx="0.8" fill="#365d8d" opacity="0.10"/><rect x="385.9" y="38.9" width="4.3" height="3.0" rx="0.8" fill="#365d8d" opacity="0.10"/><rect x="393.7" y="38.9" width="4.3" height="3.0" rx="0.8" fill="#365d8d" opacity="0.10"/><rect x="401.5" y="38.9" width="4.3" height="3.0" rx="0.8" fill="#365d8d" opacity="0.10"/><rect x="409.3" y="38.9" width="4.3" height="3.0" rx="0.8" fill="#365d8d" opacity="0.10"/><rect x="417.1" y="38.9" width="4.3" height="3.0" rx="0.8" fill="#365d8d" opacity="0.10"/><rect x="424.9" y="38.9" width="4.3" height="3.0" rx="0.8" fill="#365d8d" opacity="0.10"/><rect x="432.7" y="38.9" width="4.3" height="3.0" rx="0.8" fill="#365d8d" opacity="0.10"/><rect x="362.5" y="46.5" width="4.3" height="3.0" rx="0.8" fill="#365d8d" opacity="0.10"/><rect x="370.3" y="46.5" width="4.3" height="3.0" rx="0.8" fill="#365d8d" opacity="0.10"/><rect x="378.1" y="46.5" width="4.3" height="3.0" rx="0.8" fill="#365d8d" opacity="0.10"/><rect x="385.9" y="46.5" width="4.3" height="3.0" rx="0.8" fill="#365d8d" opacity="0.10"/><rect x="393.7" y="46.5" width="4.3" height="3.0" rx="0.8" fill="#365d8d" opacity="0.10"/><rect x="401.5" y="46.5" width="4.3" height="3.0" rx="0.8" fill="#365d8d" opacity="0.10"/><rect x="409.3" y="46.5" width="4.3" height="3.0" rx="0.8" fill="#365d8d" opacity="0.10"/><rect x="417.1" y="46.5" width="4.3" height="3.0" rx="0.8" fill="#365d8d" opacity="0.10"/><rect x="424.9" y="46.5" width="4.3" height="3.0" rx="0.8" fill="#365d8d" opacity="0.10"/><rect x="432.7" y="46.5" width="4.3" height="3.0" rx="0.8" fill="#365d8d" opacity="0.10"/><rect x="362.5" y="54.1" width="4.3" height="3.0" rx="0.8" fill="#365d8d" opacity="0.10"/><rect x="370.3" y="54.1" width="4.3" height="3.0" rx="0.8" fill="#365d8d" opacity="0.10"/><rect x="385.9" y="54.1" width="4.3" height="3.0" rx="0.8" fill="#365d8d" opacity="0.10"/><rect x="393.7" y="54.1" width="4.3" height="3.0" rx="0.8" fill="#365d8d" opacity="0.10"/><rect x="409.3" y="54.1" width="4.3" height="3.0" rx="0.8" fill="#365d8d" opacity="0.10"/><rect x="424.9" y="54.1" width="4.3" height="3.0" rx="0.8" fill="#365d8d" opacity="0.10"/><rect x="432.7" y="54.1" width="4.3" height="3.0" rx="0.8" fill="#365d8d" opacity="0.10"/><rect x="362.9" y="8.0" width="2.8" height="1.6" fill="#460b5e" opacity="0.35"/><rect x="371.5" y="8.0" width="2.8" height="1.6" fill="#460b5e" opacity="0.35"/><rect x="379.1" y="8.0" width="2.8" height="1.6" fill="#460b5e" opacity="0.35"/><rect x="386.7" y="8.0" width="2.8" height="1.6" fill="#460b5e" opacity="0.35"/><rect x="394.0" y="8.0" width="2.8" height="1.6" fill="#460b5e" opacity="0.35"/><rect x="402.4" y="8.0" width="2.8" height="1.6" fill="#460b5e" opacity="0.35"/><rect x="410.1" y="8.0" width="2.8" height="1.6" fill="#460b5e" opacity="0.35"/><rect x="417.7" y="8.0" width="2.8" height="1.6" fill="#460b5e" opacity="0.35"/><rect x="425.2" y="8.0" width="2.8" height="1.6" fill="#460b5e" opacity="0.35"/><rect x="432.9" y="8.0" width="2.8" height="1.6" fill="#460b5e" opacity="0.35"/></g>
<ellipse cx="392.7" cy="28.3" rx="1.9" ry="7" fill="#26ad81" opacity="0.7" filter="url(#sb2)"/><rect x="392.1" y="22" width="1.3" height="12.5" fill="#4ec36b" opacity="0.7" filter="url(#sb)"/><ellipse cx="392.8" cy="29" rx="0.9" ry="4" fill="#63cb5f" opacity="0.5"/><ellipse cx="384.5" cy="55.7" rx="3.4" ry="1.4" fill="#9bd93c" opacity="0.95" filter="url(#sb)"/><ellipse cx="384.5" cy="58.3" rx="2.5" ry="0.9" fill="#2f6c8e" opacity="0.4" filter="url(#sb)"/><ellipse cx="403.0" cy="55.7" rx="3.4" ry="1.4" fill="#9bd93c" opacity="0.95" filter="url(#sb)"/><ellipse cx="403.0" cy="58.3" rx="2.5" ry="0.9" fill="#2f6c8e" opacity="0.4" filter="url(#sb)"/><ellipse cx="423.5" cy="55.7" rx="3.4" ry="1.4" fill="#9bd93c" opacity="0.95" filter="url(#sb)"/><ellipse cx="423.5" cy="58.3" rx="2.5" ry="0.9" fill="#2f6c8e" opacity="0.4" filter="url(#sb)"/>
<rect x="361.5" y="7.0" width="77.70" height="152.80" filter="url(#tx)" opacity="0.18"/>
</g>
<rect x="361.5" y="7.0" width="77.70" height="0.75" fill="#e9f2a8"/>
<rect x="361.5" y="7.0" width="1" height="152.8" fill="#44bf70" opacity="0.6"/>
<rect x="438.2" y="7.0" width="1" height="76.9" fill="#b0dd2f" opacity="0.7"/><rect x="438.2" y="83.9" width="1" height="75.9" fill="#44bf70" opacity="0.45"/>
</g>
<g clip-path="url(#cp4)"><g filter="url(#pb)">
<rect x="451.2" y="5.0" width="81.30" height="78.90" fill="url(#rg3)"/>
<rect x="451.2" y="83.9" width="81.30" height="77.90" fill="url(#ig)"/>
<g transform="translate(453.2 0)"><rect x="-1" y="89.8" width="1" height="13.6" fill="#2a788e" opacity="0.55"/><rect x="0" y="95.3" width="1" height="25.5" fill="#26828e" opacity="0.55"/><rect x="1" y="95.7" width="1" height="25.2" fill="#34608d" opacity="0.55"/><rect x="3" y="144" width="1" height="7.1" fill="#228d8d" opacity="0.45"/><rect x="4" y="144" width="1" height="9.3" fill="#21908d" opacity="0.45"/><rect x="5" y="88.6" width="1" height="13.0" fill="#287c8e" opacity="0.55"/><rect x="5" y="144" width="1" height="8.2" fill="#24868e" opacity="0.45"/><rect x="6" y="89.7" width="1" height="27.3" fill="#2c728e" opacity="0.55"/><rect x="6" y="144" width="1" height="10.6" fill="#1f958b" opacity="0.45"/><rect x="8" y="144" width="1" height="8.8" fill="#228d8d" opacity="0.45"/><rect x="9" y="91.0" width="1" height="11.2" fill="#2e6f8e" opacity="0.55"/><rect x="10" y="88.6" width="1" height="17.7" fill="#29798e" opacity="0.55"/><rect x="10" y="144" width="1" height="9.4" fill="#228b8d" opacity="0.45"/><rect x="11" y="92.4" width="1" height="29.1" fill="#24868e" opacity="0.55"/><rect x="11" y="144" width="1" height="7.3" fill="#228d8d" opacity="0.45"/><rect x="12" y="95.3" width="1" height="10.4" fill="#31688e" opacity="0.55"/><rect x="14" y="89.0" width="1" height="11.4" fill="#31668e" opacity="0.55"/><rect x="15" y="93.7" width="1" height="21.9" fill="#277f8e" opacity="0.55"/><rect x="16" y="94.5" width="1" height="13.2" fill="#277f8e" opacity="0.55"/><rect x="16" y="144" width="1" height="8.2" fill="#21908d" opacity="0.45"/><rect x="17" y="144" width="1" height="9.2" fill="#20928c" opacity="0.45"/><rect x="18" y="87.0" width="1" height="24.2" fill="#2a778e" opacity="0.55"/><rect x="19" y="90.9" width="1" height="20.5" fill="#2c738e" opacity="0.55"/><rect x="23" y="87.2" width="1" height="17.0" fill="#297b8e" opacity="0.55"/><rect x="23" y="144" width="1" height="9.8" fill="#1f978b" opacity="0.45"/><rect x="25" y="95.7" width="1" height="10.4" fill="#2a788e" opacity="0.55"/><rect x="25" y="144" width="1" height="7.7" fill="#20928c" opacity="0.45"/><rect x="27" y="89.3" width="1" height="25.3" fill="#228b8d" opacity="0.55"/><rect x="27" y="144" width="1" height="9.3" fill="#23898e" opacity="0.45"/><rect x="28" y="93.4" width="1" height="28.8" fill="#23898e" opacity="0.55"/><rect x="29" y="144" width="1" height="8.0" fill="#228c8d" opacity="0.45"/><rect x="30" y="87.6" width="1" height="16.2" fill="#32658e" opacity="0.55"/><rect x="30" y="144" width="1" height="8.0" fill="#1f948c" opacity="0.45"/><rect x="31" y="88.5" width="1" height="27.9" fill="#26828e" opacity="0.55"/><rect x="31" y="144" width="1" height="7.7" fill="#1f958b" opacity="0.45"/><rect x="32" y="89.5" width="1" height="23.7" fill="#306a8e" opacity="0.55"/><rect x="33" y="94.9" width="1" height="18.8" fill="#2a788e" opacity="0.55"/><rect x="34" y="88.5" width="1" height="22.6" fill="#26828e" opacity="0.55"/><rect x="35" y="144" width="1" height="8.9" fill="#1e9c89" opacity="0.45"/><rect x="36" y="91.9" width="1" height="28.0" fill="#277e8e" opacity="0.55"/><rect x="37" y="89.5" width="1" height="20.1" fill="#277e8e" opacity="0.55"/><rect x="38" y="144" width="1" height="7.1" fill="#1f9a8a" opacity="0.45"/><rect x="39" y="89.4" width="1" height="32.3" fill="#20928c" opacity="0.55"/><rect x="41" y="95.5" width="1" height="12.8" fill="#297b8e" opacity="0.55"/><rect x="42" y="91.4" width="1" height="33.6" fill="#2b758e" opacity="0.55"/><rect x="43" y="90.9" width="1" height="11.7" fill="#277e8e" opacity="0.55"/><rect x="44" y="91.2" width="1" height="33.3" fill="#277e8e" opacity="0.55"/><rect x="44" y="144" width="1" height="9.0" fill="#228c8d" opacity="0.45"/><rect x="45" y="91.2" width="1" height="21.4" fill="#32648e" opacity="0.55"/><rect x="46" y="144" width="1" height="8.1" fill="#1f958b" opacity="0.45"/><rect x="47" y="91.4" width="1" height="25.6" fill="#2e6d8e" opacity="0.55"/><rect x="48" y="91.8" width="1" height="23.0" fill="#26828e" opacity="0.55"/><rect x="48" y="144" width="1" height="8.4" fill="#1f998a" opacity="0.45"/><rect x="49" y="144" width="1" height="7.9" fill="#1f988b" opacity="0.45"/><rect x="50" y="90.4" width="1" height="19.7" fill="#31688e" opacity="0.55"/><rect x="51" y="144" width="1" height="8.2" fill="#23898e" opacity="0.45"/><rect x="52" y="95.4" width="1" height="19.7" fill="#287d8e" opacity="0.55"/><rect x="53" y="88.8" width="1" height="21.7" fill="#31668e" opacity="0.55"/><rect x="54" y="94.9" width="1" height="14.2" fill="#2a768e" opacity="0.55"/><rect x="55" y="91.4" width="1" height="21.9" fill="#2a768e" opacity="0.55"/><rect x="57" y="93.2" width="1" height="31.8" fill="#32648e" opacity="0.55"/><rect x="58" y="95.2" width="1" height="17.3" fill="#287d8e" opacity="0.55"/><rect x="59" y="144" width="1" height="7.9" fill="#218e8d" opacity="0.45"/><rect x="60" y="94.5" width="1" height="20.5" fill="#297a8e" opacity="0.55"/><rect x="61" y="87.6" width="1" height="17.4" fill="#2f6c8e" opacity="0.55"/><rect x="61" y="144" width="1" height="8.9" fill="#26828e" opacity="0.45"/><rect x="62" y="144" width="1" height="11.0" fill="#1f968b" opacity="0.45"/><rect x="63" y="95.2" width="1" height="32.1" fill="#23888e" opacity="0.55"/><rect x="64" y="87.4" width="1" height="21.2" fill="#25838e" opacity="0.55"/><rect x="65" y="90.2" width="1" height="12.2" fill="#2b748e" opacity="0.55"/><rect x="65" y="144" width="1" height="7.0" fill="#228d8d" opacity="0.45"/><rect x="68" y="89.7" width="1" height="14.7" fill="#23888e" opacity="0.55"/><rect x="68" y="144" width="1" height="10.6" fill="#20928c" opacity="0.45"/><rect x="69" y="144" width="1" height="10.3" fill="#1f998a" opacity="0.45"/><rect x="70" y="87.9" width="1" height="20.6" fill="#2a788e" opacity="0.55"/><rect x="71" y="90.0" width="1" height="33.2" fill="#2a778e" opacity="0.55"/><rect x="71" y="144" width="1" height="8.3" fill="#20938c" opacity="0.45"/><rect x="74" y="87.7" width="1" height="16.6" fill="#287d8e" opacity="0.55"/><rect x="74" y="144" width="1" height="7.2" fill="#228d8d" opacity="0.45"/><rect x="75" y="94.2" width="1" height="35.3" fill="#26818e" opacity="0.55"/><rect x="76" y="89.4" width="1" height="30.1" fill="#25848e" opacity="0.55"/><rect x="76" y="144" width="1" height="9.4" fill="#228d8d" opacity="0.45"/><ellipse cx="52.7" cy="94.5" rx="1.7" ry="5.5" fill="#228b8d" opacity="0.7" filter="url(#sb)"/><ellipse cx="62.2" cy="94.5" rx="1.7" ry="5.5" fill="#228b8d" opacity="0.7" filter="url(#sb)"/><ellipse cx="38" cy="94" rx="1.6" ry="5" fill="#24868e" opacity="0.7" filter="url(#sb)"/><ellipse cx="45" cy="92" rx="1.4" ry="4" fill="#25848e" opacity="0.7" filter="url(#sb)"/><ellipse cx="19" cy="122" rx="5" ry="1.5" fill="#1e9c89" opacity="0.7" filter="url(#sb)"/><ellipse cx="30" cy="123" rx="4" ry="1.3" fill="#1e9c89" opacity="0.7" filter="url(#sb)"/><ellipse cx="58" cy="124" rx="5" ry="1.2" fill="#1f978b" opacity="0.7" filter="url(#sb)"/><ellipse cx="23" cy="131.6" rx="2.6" ry="1.0" fill="#9bd93c" opacity="0.95" filter="url(#bb)"/><ellipse cx="41.5" cy="131.6" rx="2.6" ry="1.0" fill="#9bd93c" opacity="0.95" filter="url(#bb)"/><ellipse cx="61.5" cy="131.6" rx="2.6" ry="1.0" fill="#9bd93c" opacity="0.95" filter="url(#bb)"/><rect x="1.5" y="129.8" width="1.8" height="0.9" fill="#26ad81" opacity="0.45"/><rect x="5.6" y="129.3" width="1.5" height="0.9" fill="#26ad81" opacity="0.62"/><rect x="9.7" y="129.5" width="1.4" height="0.9" fill="#26ad81" opacity="0.58"/><rect x="13.8" y="129.7" width="1.5" height="0.9" fill="#26ad81" opacity="0.77"/><rect x="17.9" y="130.3" width="1.2" height="0.9" fill="#26ad81" opacity="0.59"/><rect x="26.1" y="129.5" width="1.5" height="0.9" fill="#26ad81" opacity="0.41"/><rect x="30.2" y="129.3" width="1.2" height="0.9" fill="#26ad81" opacity="0.45"/><rect x="34.3" y="130.0" width="1.3" height="0.9" fill="#26ad81" opacity="0.75"/><rect x="46.6" y="130.2" width="1.5" height="0.9" fill="#26ad81" opacity="0.68"/><rect x="50.7" y="130.3" width="1.3" height="0.9" fill="#26ad81" opacity="0.62"/><rect x="54.8" y="129.8" width="1.5" height="0.9" fill="#26ad81" opacity="0.52"/><rect x="67.1" y="129.3" width="1.8" height="0.9" fill="#26ad81" opacity="0.48"/><rect x="71.2" y="129.7" width="2.1" height="0.9" fill="#26ad81" opacity="0.54"/><rect x="75.3" y="129.6" width="2.1" height="0.9" fill="#26ad81" opacity="0.63"/><rect x="4.1" y="124.6" width="1.2" height="0.9" fill="#22a884" opacity="0.56"/><rect x="7.1" y="125.4" width="1.2" height="0.9" fill="#22a884" opacity="0.46"/><rect x="9.8" y="126.2" width="1.2" height="0.9" fill="#22a884" opacity="0.58"/><rect x="14.8" y="124.8" width="1.2" height="0.9" fill="#22a884" opacity="0.41"/><rect x="16.5" y="124.8" width="1.2" height="0.9" fill="#22a884" opacity="0.43"/><rect x="19.9" y="124.7" width="1.2" height="0.9" fill="#22a884" opacity="0.42"/><rect x="24.5" y="125.2" width="1.2" height="0.9" fill="#22a884" opacity="0.63"/><rect x="26.2" y="124.6" width="1.2" height="0.9" fill="#22a884" opacity="0.68"/><rect x="29.5" y="124.3" width="1.2" height="0.9" fill="#22a884" opacity="0.51"/><rect x="33.3" y="124.6" width="1.2" height="0.9" fill="#22a884" opacity="0.54"/><rect x="37.2" y="124.6" width="1.2" height="0.9" fill="#22a884" opacity="0.52"/><rect x="40.2" y="126.1" width="1.2" height="0.9" fill="#22a884" opacity="0.33"/><rect x="43.1" y="125.5" width="1.2" height="0.9" fill="#22a884" opacity="0.31"/><rect x="47.6" y="126.4" width="1.2" height="0.9" fill="#22a884" opacity="0.43"/><rect x="50.7" y="124.7" width="1.2" height="0.9" fill="#22a884" opacity="0.68"/><rect x="52.9" y="124.1" width="1.2" height="0.9" fill="#22a884" opacity="0.33"/><rect x="56.7" y="124.2" width="1.2" height="0.9" fill="#22a884" opacity="0.69"/><rect x="60.4" y="125.5" width="1.2" height="0.9" fill="#22a884" opacity="0.55"/><rect x="63.2" y="126.2" width="1.2" height="0.9" fill="#22a884" opacity="0.59"/><rect x="66.6" y="124.8" width="1.2" height="0.9" fill="#22a884" opacity="0.36"/><rect x="69.6" y="124.9" width="1.2" height="0.9" fill="#22a884" opacity="0.33"/><rect x="74.1" y="124.7" width="1.2" height="0.9" fill="#22a884" opacity="0.52"/><rect x="30.9" y="87" width="0.9" height="24" fill="#32b67a" opacity="0.55"/><rect x="30.6" y="92" width="1.4" height="12" fill="#4ec36b" opacity="0.35"/></g>
<rect x="453.2" y="17.1" width="1" height="20.4" fill="#25838e" opacity="0.55"/><rect x="457.2" y="17.4" width="1" height="12.8" fill="#26828e" opacity="0.55"/><rect x="458.2" y="16.8" width="1" height="26.8" fill="#2c728e" opacity="0.55"/><rect x="461.2" y="15.1" width="1" height="13.3" fill="#287c8e" opacity="0.55"/><rect x="463.2" y="18.0" width="1" height="15.0" fill="#24878e" opacity="0.55"/><rect x="465.2" y="10.1" width="1" height="24.4" fill="#297a8e" opacity="0.55"/><rect x="467.2" y="10.3" width="1" height="13.1" fill="#26828e" opacity="0.55"/><rect x="473.2" y="17.8" width="1" height="29.1" fill="#277e8e" opacity="0.55"/><rect x="474.2" y="15.8" width="1" height="17.0" fill="#23898e" opacity="0.55"/><rect x="475.2" y="17.7" width="1" height="29.7" fill="#1f9a8a" opacity="0.55"/><rect x="476.2" y="12.6" width="1" height="13.3" fill="#23888e" opacity="0.55"/><rect x="478.2" y="12.0" width="1" height="29.3" fill="#287c8e" opacity="0.55"/><rect x="483.2" y="12.9" width="1" height="27.8" fill="#297a8e" opacity="0.55"/><rect x="487.2" y="15.3" width="1" height="23.1" fill="#228b8d" opacity="0.55"/><rect x="489.2" y="10.8" width="1" height="25.1" fill="#25838e" opacity="0.55"/><rect x="492.2" y="10.8" width="1" height="16.1" fill="#26818e" opacity="0.55"/><rect x="495.2" y="15.2" width="1" height="14.1" fill="#218e8d" opacity="0.55"/><rect x="496.2" y="16.5" width="1" height="13.3" fill="#228d8d" opacity="0.55"/><rect x="499.2" y="13.3" width="1" height="28.8" fill="#287c8e" opacity="0.55"/><rect x="501.2" y="15.3" width="1" height="17.2" fill="#21918c" opacity="0.55"/><rect x="502.2" y="13.2" width="1" height="18.5" fill="#228c8d" opacity="0.55"/><rect x="503.2" y="16.1" width="1" height="20.9" fill="#2c738e" opacity="0.55"/><rect x="513.2" y="12.0" width="1" height="28.6" fill="#23888e" opacity="0.55"/><rect x="515.2" y="11.1" width="1" height="29.6" fill="#23888e" opacity="0.55"/><rect x="523.2" y="17.6" width="1" height="21.1" fill="#24868e" opacity="0.55"/><rect x="527.2" y="10.7" width="1" height="19.8" fill="#25838e" opacity="0.55"/><rect x="528.2" y="18.0" width="1" height="14.4" fill="#24878e" opacity="0.55"/>
<g filter="url(#bb)"><rect x="454.2" y="16.1" width="4.3" height="3.0" rx="0.8" fill="#365d8d" opacity="0.10"/><rect x="462.0" y="16.1" width="4.3" height="3.0" rx="0.8" fill="#365d8d" opacity="0.10"/><rect x="469.8" y="16.1" width="4.3" height="3.0" rx="0.8" fill="#365d8d" opacity="0.10"/><rect x="477.6" y="16.1" width="4.3" height="3.0" rx="0.8" fill="#365d8d" opacity="0.10"/><rect x="485.4" y="16.1" width="4.3" height="3.0" rx="0.8" fill="#365d8d" opacity="0.10"/><rect x="493.2" y="16.1" width="4.3" height="3.0" rx="0.8" fill="#365d8d" opacity="0.10"/><rect x="501.0" y="16.1" width="4.3" height="3.0" rx="0.8" fill="#365d8d" opacity="0.10"/><rect x="508.8" y="16.1" width="4.3" height="3.0" rx="0.8" fill="#365d8d" opacity="0.10"/><rect x="516.6" y="16.1" width="4.3" height="3.0" rx="0.8" fill="#365d8d" opacity="0.10"/><rect x="524.4" y="16.1" width="4.3" height="3.0" rx="0.8" fill="#365d8d" opacity="0.10"/><rect x="454.2" y="23.7" width="4.3" height="3.0" rx="0.8" fill="#365d8d" opacity="0.10"/><rect x="462.0" y="23.7" width="4.3" height="3.0" rx="0.8" fill="#365d8d" opacity="0.10"/><rect x="469.8" y="23.7" width="4.3" height="3.0" rx="0.8" fill="#365d8d" opacity="0.10"/><rect x="477.6" y="23.7" width="4.3" height="3.0" rx="0.8" fill="#365d8d" opacity="0.10"/><rect x="485.4" y="23.7" width="4.3" height="3.0" rx="0.8" fill="#365d8d" opacity="0.10"/><rect x="493.2" y="23.7" width="4.3" height="3.0" rx="0.8" fill="#365d8d" opacity="0.10"/><rect x="501.0" y="23.7" width="4.3" height="3.0" rx="0.8" fill="#365d8d" opacity="0.10"/><rect x="508.8" y="23.7" width="4.3" height="3.0" rx="0.8" fill="#365d8d" opacity="0.10"/><rect x="516.6" y="23.7" width="4.3" height="3.0" rx="0.8" fill="#365d8d" opacity="0.10"/><rect x="524.4" y="23.7" width="4.3" height="3.0" rx="0.8" fill="#365d8d" opacity="0.10"/><rect x="454.2" y="31.3" width="4.3" height="3.0" rx="0.8" fill="#365d8d" opacity="0.10"/><rect x="462.0" y="31.3" width="4.3" height="3.0" rx="0.8" fill="#365d8d" opacity="0.10"/><rect x="469.8" y="31.3" width="4.3" height="3.0" rx="0.8" fill="#365d8d" opacity="0.10"/><rect x="477.6" y="31.3" width="4.3" height="3.0" rx="0.8" fill="#365d8d" opacity="0.10"/><rect x="485.4" y="31.3" width="4.3" height="3.0" rx="0.8" fill="#365d8d" opacity="0.10"/><rect x="493.2" y="31.3" width="4.3" height="3.0" rx="0.8" fill="#365d8d" opacity="0.10"/><rect x="501.0" y="31.3" width="4.3" height="3.0" rx="0.8" fill="#365d8d" opacity="0.10"/><rect x="508.8" y="31.3" width="4.3" height="3.0" rx="0.8" fill="#365d8d" opacity="0.10"/><rect x="516.6" y="31.3" width="4.3" height="3.0" rx="0.8" fill="#365d8d" opacity="0.10"/><rect x="524.4" y="31.3" width="4.3" height="3.0" rx="0.8" fill="#365d8d" opacity="0.10"/><rect x="454.2" y="38.9" width="4.3" height="3.0" rx="0.8" fill="#365d8d" opacity="0.10"/><rect x="462.0" y="38.9" width="4.3" height="3.0" rx="0.8" fill="#365d8d" opacity="0.10"/><rect x="469.8" y="38.9" width="4.3" height="3.0" rx="0.8" fill="#365d8d" opacity="0.10"/><rect x="477.6" y="38.9" width="4.3" height="3.0" rx="0.8" fill="#365d8d" opacity="0.10"/><rect x="485.4" y="38.9" width="4.3" height="3.0" rx="0.8" fill="#365d8d" opacity="0.10"/><rect x="493.2" y="38.9" width="4.3" height="3.0" rx="0.8" fill="#365d8d" opacity="0.10"/><rect x="501.0" y="38.9" width="4.3" height="3.0" rx="0.8" fill="#365d8d" opacity="0.10"/><rect x="508.8" y="38.9" width="4.3" height="3.0" rx="0.8" fill="#365d8d" opacity="0.10"/><rect x="516.6" y="38.9" width="4.3" height="3.0" rx="0.8" fill="#365d8d" opacity="0.10"/><rect x="524.4" y="38.9" width="4.3" height="3.0" rx="0.8" fill="#365d8d" opacity="0.10"/><rect x="454.2" y="46.5" width="4.3" height="3.0" rx="0.8" fill="#365d8d" opacity="0.10"/><rect x="462.0" y="46.5" width="4.3" height="3.0" rx="0.8" fill="#365d8d" opacity="0.10"/><rect x="469.8" y="46.5" width="4.3" height="3.0" rx="0.8" fill="#365d8d" opacity="0.10"/><rect x="477.6" y="46.5" width="4.3" height="3.0" rx="0.8" fill="#365d8d" opacity="0.10"/><rect x="485.4" y="46.5" width="4.3" height="3.0" rx="0.8" fill="#365d8d" opacity="0.10"/><rect x="493.2" y="46.5" width="4.3" height="3.0" rx="0.8" fill="#365d8d" opacity="0.10"/><rect x="501.0" y="46.5" width="4.3" height="3.0" rx="0.8" fill="#365d8d" opacity="0.10"/><rect x="508.8" y="46.5" width="4.3" height="3.0" rx="0.8" fill="#365d8d" opacity="0.10"/><rect x="516.6" y="46.5" width="4.3" height="3.0" rx="0.8" fill="#365d8d" opacity="0.10"/><rect x="524.4" y="46.5" width="4.3" height="3.0" rx="0.8" fill="#365d8d" opacity="0.10"/><rect x="454.2" y="54.1" width="4.3" height="3.0" rx="0.8" fill="#365d8d" opacity="0.10"/><rect x="462.0" y="54.1" width="4.3" height="3.0" rx="0.8" fill="#365d8d" opacity="0.10"/><rect x="477.6" y="54.1" width="4.3" height="3.0" rx="0.8" fill="#365d8d" opacity="0.10"/><rect x="485.4" y="54.1" width="4.3" height="3.0" rx="0.8" fill="#365d8d" opacity="0.10"/><rect x="501.0" y="54.1" width="4.3" height="3.0" rx="0.8" fill="#365d8d" opacity="0.10"/><rect x="516.6" y="54.1" width="4.3" height="3.0" rx="0.8" fill="#365d8d" opacity="0.10"/><rect x="524.4" y="54.1" width="4.3" height="3.0" rx="0.8" fill="#365d8d" opacity="0.10"/><rect x="455.2" y="8.0" width="2.8" height="1.6" fill="#460b5e" opacity="0.35"/><rect x="462.4" y="8.0" width="2.8" height="1.6" fill="#460b5e" opacity="0.35"/><rect x="470.7" y="8.0" width="2.8" height="1.6" fill="#460b5e" opacity="0.35"/><rect x="477.6" y="8.0" width="2.8" height="1.6" fill="#460b5e" opacity="0.35"/><rect x="486.0" y="8.0" width="2.8" height="1.6" fill="#460b5e" opacity="0.35"/><rect x="493.6" y="8.0" width="2.8" height="1.6" fill="#460b5e" opacity="0.35"/><rect x="501.3" y="8.0" width="2.8" height="1.6" fill="#460b5e" opacity="0.35"/><rect x="509.2" y="8.0" width="2.8" height="1.6" fill="#460b5e" opacity="0.35"/><rect x="517.1" y="8.0" width="2.8" height="1.6" fill="#460b5e" opacity="0.35"/><rect x="525.0" y="8.0" width="2.8" height="1.6" fill="#460b5e" opacity="0.35"/></g>
<ellipse cx="484.4" cy="28.3" rx="1.9" ry="7" fill="#26ad81" opacity="0.7" filter="url(#sb2)"/><rect x="483.8" y="22" width="1.3" height="12.5" fill="#4ec36b" opacity="0.7" filter="url(#sb)"/><ellipse cx="484.5" cy="29" rx="0.9" ry="4" fill="#63cb5f" opacity="0.5"/><ellipse cx="476.2" cy="55.7" rx="3.4" ry="1.4" fill="#9bd93c" opacity="0.95" filter="url(#sb)"/><ellipse cx="476.2" cy="58.3" rx="2.5" ry="0.9" fill="#2f6c8e" opacity="0.4" filter="url(#sb)"/><ellipse cx="494.7" cy="55.7" rx="3.4" ry="1.4" fill="#9bd93c" opacity="0.95" filter="url(#sb)"/><ellipse cx="494.7" cy="58.3" rx="2.5" ry="0.9" fill="#2f6c8e" opacity="0.4" filter="url(#sb)"/><ellipse cx="515.2" cy="55.7" rx="3.4" ry="1.4" fill="#9bd93c" opacity="0.95" filter="url(#sb)"/><ellipse cx="515.2" cy="58.3" rx="2.5" ry="0.9" fill="#2f6c8e" opacity="0.4" filter="url(#sb)"/>
<rect x="453.2" y="7.0" width="77.30" height="152.80" filter="url(#tx)" opacity="0.18"/>
</g>
<rect x="453.2" y="7.0" width="77.30" height="0.75" fill="#e9f2a8"/>
<rect x="453.2" y="7.0" width="1" height="152.8" fill="#44bf70" opacity="0.6"/>
<rect x="529.5" y="7.0" width="1" height="76.9" fill="#b0dd2f" opacity="0.7"/><rect x="529.5" y="83.9" width="1" height="75.9" fill="#44bf70" opacity="0.45"/>
</g>
<rect x="341.9" y="310.3" width="1" height="1" fill="#d0d0d0"/><rect x="413.1" y="310.3" width="1" height="1" fill="#d0d0d0"/>
<g font-family="Liberation Sans, sans-serif" fill="#0a0a0a" stroke="#0a0a0a" stroke-width="0.22" text-rendering="geometricPrecision">
<text x="44.1" y="50.35" font-size="15.5" text-anchor="end">0.5</text>
<text x="44.1" y="95.95" font-size="15.5" text-anchor="end">0.4</text>
<text x="44.1" y="141.55" font-size="15.5" text-anchor="end">0.3</text>
<text x="44.1" y="187.15" font-size="15.5" text-anchor="end">0.2</text>
<text x="44.1" y="232.75" font-size="15.5" text-anchor="end">0.1</text>
<text x="33.8" y="290.95" font-size="15.7" text-anchor="middle">0</text>
<text x="122.55" y="291.4" font-size="15.8" text-anchor="middle">2k</text>
<text x="196.45" y="291.4" font-size="15.8" text-anchor="middle">4k</text>
<text x="270.35" y="291.4" font-size="15.8" text-anchor="middle">6k</text>
<text x="344.25" y="291.4" font-size="15.8" text-anchor="middle">8k</text>
<text x="418.15" y="291.4" font-size="15.8" text-anchor="middle">10k</text>
<text x="227.3" y="312.6" font-size="15.4" textLength="60.9" lengthAdjust="spacingAndGlyphs">Iteration</text>
<text transform="translate(13.4 185.1) rotate(-90)" font-size="14">MSE Loss</text>
<text x="65.6" y="225.5" font-size="15.25">Epoch 1</text>
<text x="154.1" y="233.5" font-size="15.25">Epoch 3</text>
<text x="237.0" y="236.7" font-size="15.25">Epoch 5</text>
<text x="371.1" y="237.5" font-size="15.25">Epoch 8</text>
<text x="461.9" y="235.9" font-size="15.25">Epoch 10</text>
<text transform="translate(537.6 6.1) rotate(90)" font-size="10.8" textLength="79.2" lengthAdjust="spacingAndGlyphs">Reconstructions</text>
<text transform="translate(538.5 103.6) rotate(90)" font-size="11" textLength="31.2" lengthAdjust="spacingAndGlyphs">inputs</text>
</g>
</svg>
</body></html>
